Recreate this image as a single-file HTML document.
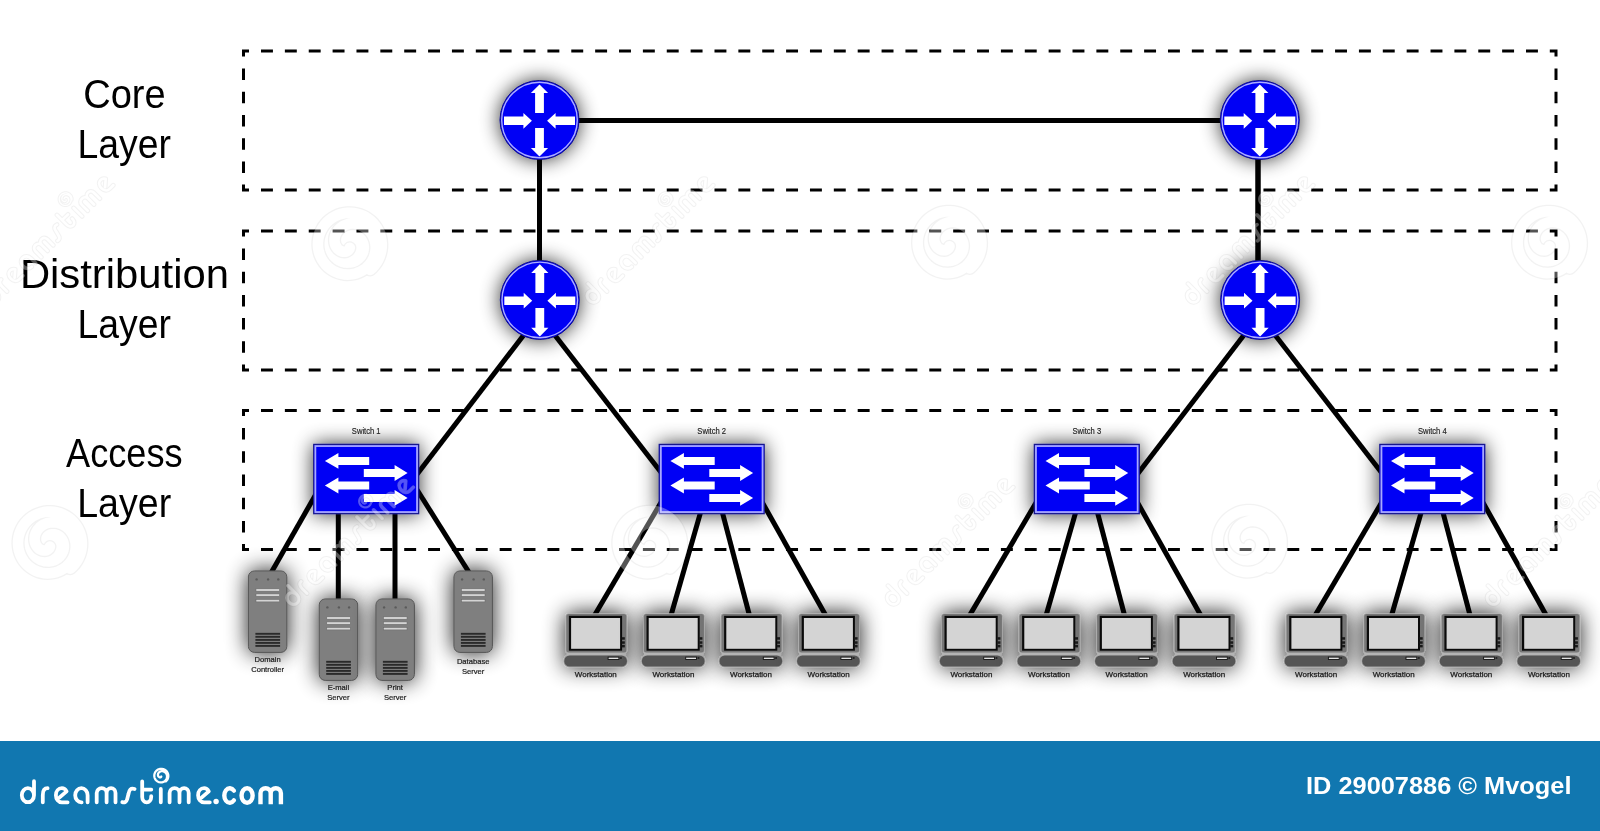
<!DOCTYPE html><html><head><meta charset="utf-8"><title>Hierarchical network design</title>
<style>html,body{margin:0;padding:0;background:#fff;overflow:hidden}svg{display:block;will-change:transform}text{font-family:"Liberation Sans",sans-serif}</style></head><body>
<svg width="1600" height="831" viewBox="0 0 1600 831">
<defs><filter id="sh" x="-80%" y="-80%" width="260%" height="260%"><feGaussianBlur in="SourceAlpha" stdDeviation="11"/><feComponentTransfer><feFuncA type="linear" slope="0.9"/></feComponentTransfer><feMerge><feMergeNode/><feMergeNode in="SourceGraphic"/></feMerge></filter><filter id="sh2" x="-80%" y="-80%" width="260%" height="260%"><feGaussianBlur in="SourceAlpha" stdDeviation="10"/><feComponentTransfer><feFuncA type="linear" slope="0.8"/></feComponentTransfer><feMerge><feMergeNode/><feMergeNode in="SourceGraphic"/></feMerge></filter></defs>
<rect width="1600" height="831" fill="#fff"/>
<path d="M242 49.5h7v3h-7zM242 188.5h7v3h-7zM261 49.5h11.93v3h-11.93zM261 188.5h11.93v3h-11.93zM284.87 49.5h11.93v3h-11.93zM284.87 188.5h11.93v3h-11.93zM308.74 49.5h11.93v3h-11.93zM308.74 188.5h11.93v3h-11.93zM332.6 49.5h11.93v3h-11.93zM332.6 188.5h11.93v3h-11.93zM356.47 49.5h11.93v3h-11.93zM356.47 188.5h11.93v3h-11.93zM380.34 49.5h11.93v3h-11.93zM380.34 188.5h11.93v3h-11.93zM404.21 49.5h11.93v3h-11.93zM404.21 188.5h11.93v3h-11.93zM428.08 49.5h11.93v3h-11.93zM428.08 188.5h11.93v3h-11.93zM451.94 49.5h11.93v3h-11.93zM451.94 188.5h11.93v3h-11.93zM475.81 49.5h11.93v3h-11.93zM475.81 188.5h11.93v3h-11.93zM499.68 49.5h11.93v3h-11.93zM499.68 188.5h11.93v3h-11.93zM523.55 49.5h11.93v3h-11.93zM523.55 188.5h11.93v3h-11.93zM547.42 49.5h11.93v3h-11.93zM547.42 188.5h11.93v3h-11.93zM571.28 49.5h11.93v3h-11.93zM571.28 188.5h11.93v3h-11.93zM595.15 49.5h11.93v3h-11.93zM595.15 188.5h11.93v3h-11.93zM619.02 49.5h11.93v3h-11.93zM619.02 188.5h11.93v3h-11.93zM642.89 49.5h11.93v3h-11.93zM642.89 188.5h11.93v3h-11.93zM666.76 49.5h11.93v3h-11.93zM666.76 188.5h11.93v3h-11.93zM690.62 49.5h11.93v3h-11.93zM690.62 188.5h11.93v3h-11.93zM714.49 49.5h11.93v3h-11.93zM714.49 188.5h11.93v3h-11.93zM738.36 49.5h11.93v3h-11.93zM738.36 188.5h11.93v3h-11.93zM762.23 49.5h11.93v3h-11.93zM762.23 188.5h11.93v3h-11.93zM786.1 49.5h11.93v3h-11.93zM786.1 188.5h11.93v3h-11.93zM809.96 49.5h11.93v3h-11.93zM809.96 188.5h11.93v3h-11.93zM833.83 49.5h11.93v3h-11.93zM833.83 188.5h11.93v3h-11.93zM857.7 49.5h11.93v3h-11.93zM857.7 188.5h11.93v3h-11.93zM881.57 49.5h11.93v3h-11.93zM881.57 188.5h11.93v3h-11.93zM905.44 49.5h11.93v3h-11.93zM905.44 188.5h11.93v3h-11.93zM929.3 49.5h11.93v3h-11.93zM929.3 188.5h11.93v3h-11.93zM953.17 49.5h11.93v3h-11.93zM953.17 188.5h11.93v3h-11.93zM977.04 49.5h11.93v3h-11.93zM977.04 188.5h11.93v3h-11.93zM1000.91 49.5h11.93v3h-11.93zM1000.91 188.5h11.93v3h-11.93zM1024.78 49.5h11.93v3h-11.93zM1024.78 188.5h11.93v3h-11.93zM1048.64 49.5h11.93v3h-11.93zM1048.64 188.5h11.93v3h-11.93zM1072.51 49.5h11.93v3h-11.93zM1072.51 188.5h11.93v3h-11.93zM1096.38 49.5h11.93v3h-11.93zM1096.38 188.5h11.93v3h-11.93zM1120.25 49.5h11.93v3h-11.93zM1120.25 188.5h11.93v3h-11.93zM1144.12 49.5h11.93v3h-11.93zM1144.12 188.5h11.93v3h-11.93zM1167.98 49.5h11.93v3h-11.93zM1167.98 188.5h11.93v3h-11.93zM1191.85 49.5h11.93v3h-11.93zM1191.85 188.5h11.93v3h-11.93zM1215.72 49.5h11.93v3h-11.93zM1215.72 188.5h11.93v3h-11.93zM1239.59 49.5h11.93v3h-11.93zM1239.59 188.5h11.93v3h-11.93zM1263.46 49.5h11.93v3h-11.93zM1263.46 188.5h11.93v3h-11.93zM1287.32 49.5h11.93v3h-11.93zM1287.32 188.5h11.93v3h-11.93zM1311.19 49.5h11.93v3h-11.93zM1311.19 188.5h11.93v3h-11.93zM1335.06 49.5h11.93v3h-11.93zM1335.06 188.5h11.93v3h-11.93zM1358.93 49.5h11.93v3h-11.93zM1358.93 188.5h11.93v3h-11.93zM1382.8 49.5h11.93v3h-11.93zM1382.8 188.5h11.93v3h-11.93zM1406.66 49.5h11.93v3h-11.93zM1406.66 188.5h11.93v3h-11.93zM1430.53 49.5h11.93v3h-11.93zM1430.53 188.5h11.93v3h-11.93zM1454.4 49.5h11.93v3h-11.93zM1454.4 188.5h11.93v3h-11.93zM1478.27 49.5h11.93v3h-11.93zM1478.27 188.5h11.93v3h-11.93zM1502.14 49.5h11.93v3h-11.93zM1502.14 188.5h11.93v3h-11.93zM1526 49.5h11.93v3h-11.93zM1526 188.5h11.93v3h-11.93zM1549.8 49.5h7.7v3h-7.7zM1549.8 188.5h7.7v3h-7.7zM242 49.5h3v7h-3zM1554.5 49.5h3v7h-3zM242 68.6h3v11.5h-3zM1554.5 68.6h3v11.5h-3zM242 91.8h3v11.5h-3zM1554.5 91.8h3v11.5h-3zM242 115h3v11.5h-3zM1554.5 115h3v11.5h-3zM242 138.2h3v11.5h-3zM1554.5 138.2h3v11.5h-3zM242 161.4h3v11.5h-3zM1554.5 161.4h3v11.5h-3zM242 184.5h3v7h-3zM1554.5 184.5h3v7h-3z" fill="#000"/>
<path d="M242 229.4h7v3h-7zM242 368.4h7v3h-7zM261 229.4h11.93v3h-11.93zM261 368.4h11.93v3h-11.93zM284.87 229.4h11.93v3h-11.93zM284.87 368.4h11.93v3h-11.93zM308.74 229.4h11.93v3h-11.93zM308.74 368.4h11.93v3h-11.93zM332.6 229.4h11.93v3h-11.93zM332.6 368.4h11.93v3h-11.93zM356.47 229.4h11.93v3h-11.93zM356.47 368.4h11.93v3h-11.93zM380.34 229.4h11.93v3h-11.93zM380.34 368.4h11.93v3h-11.93zM404.21 229.4h11.93v3h-11.93zM404.21 368.4h11.93v3h-11.93zM428.08 229.4h11.93v3h-11.93zM428.08 368.4h11.93v3h-11.93zM451.94 229.4h11.93v3h-11.93zM451.94 368.4h11.93v3h-11.93zM475.81 229.4h11.93v3h-11.93zM475.81 368.4h11.93v3h-11.93zM499.68 229.4h11.93v3h-11.93zM499.68 368.4h11.93v3h-11.93zM523.55 229.4h11.93v3h-11.93zM523.55 368.4h11.93v3h-11.93zM547.42 229.4h11.93v3h-11.93zM547.42 368.4h11.93v3h-11.93zM571.28 229.4h11.93v3h-11.93zM571.28 368.4h11.93v3h-11.93zM595.15 229.4h11.93v3h-11.93zM595.15 368.4h11.93v3h-11.93zM619.02 229.4h11.93v3h-11.93zM619.02 368.4h11.93v3h-11.93zM642.89 229.4h11.93v3h-11.93zM642.89 368.4h11.93v3h-11.93zM666.76 229.4h11.93v3h-11.93zM666.76 368.4h11.93v3h-11.93zM690.62 229.4h11.93v3h-11.93zM690.62 368.4h11.93v3h-11.93zM714.49 229.4h11.93v3h-11.93zM714.49 368.4h11.93v3h-11.93zM738.36 229.4h11.93v3h-11.93zM738.36 368.4h11.93v3h-11.93zM762.23 229.4h11.93v3h-11.93zM762.23 368.4h11.93v3h-11.93zM786.1 229.4h11.93v3h-11.93zM786.1 368.4h11.93v3h-11.93zM809.96 229.4h11.93v3h-11.93zM809.96 368.4h11.93v3h-11.93zM833.83 229.4h11.93v3h-11.93zM833.83 368.4h11.93v3h-11.93zM857.7 229.4h11.93v3h-11.93zM857.7 368.4h11.93v3h-11.93zM881.57 229.4h11.93v3h-11.93zM881.57 368.4h11.93v3h-11.93zM905.44 229.4h11.93v3h-11.93zM905.44 368.4h11.93v3h-11.93zM929.3 229.4h11.93v3h-11.93zM929.3 368.4h11.93v3h-11.93zM953.17 229.4h11.93v3h-11.93zM953.17 368.4h11.93v3h-11.93zM977.04 229.4h11.93v3h-11.93zM977.04 368.4h11.93v3h-11.93zM1000.91 229.4h11.93v3h-11.93zM1000.91 368.4h11.93v3h-11.93zM1024.78 229.4h11.93v3h-11.93zM1024.78 368.4h11.93v3h-11.93zM1048.64 229.4h11.93v3h-11.93zM1048.64 368.4h11.93v3h-11.93zM1072.51 229.4h11.93v3h-11.93zM1072.51 368.4h11.93v3h-11.93zM1096.38 229.4h11.93v3h-11.93zM1096.38 368.4h11.93v3h-11.93zM1120.25 229.4h11.93v3h-11.93zM1120.25 368.4h11.93v3h-11.93zM1144.12 229.4h11.93v3h-11.93zM1144.12 368.4h11.93v3h-11.93zM1167.98 229.4h11.93v3h-11.93zM1167.98 368.4h11.93v3h-11.93zM1191.85 229.4h11.93v3h-11.93zM1191.85 368.4h11.93v3h-11.93zM1215.72 229.4h11.93v3h-11.93zM1215.72 368.4h11.93v3h-11.93zM1239.59 229.4h11.93v3h-11.93zM1239.59 368.4h11.93v3h-11.93zM1263.46 229.4h11.93v3h-11.93zM1263.46 368.4h11.93v3h-11.93zM1287.32 229.4h11.93v3h-11.93zM1287.32 368.4h11.93v3h-11.93zM1311.19 229.4h11.93v3h-11.93zM1311.19 368.4h11.93v3h-11.93zM1335.06 229.4h11.93v3h-11.93zM1335.06 368.4h11.93v3h-11.93zM1358.93 229.4h11.93v3h-11.93zM1358.93 368.4h11.93v3h-11.93zM1382.8 229.4h11.93v3h-11.93zM1382.8 368.4h11.93v3h-11.93zM1406.66 229.4h11.93v3h-11.93zM1406.66 368.4h11.93v3h-11.93zM1430.53 229.4h11.93v3h-11.93zM1430.53 368.4h11.93v3h-11.93zM1454.4 229.4h11.93v3h-11.93zM1454.4 368.4h11.93v3h-11.93zM1478.27 229.4h11.93v3h-11.93zM1478.27 368.4h11.93v3h-11.93zM1502.14 229.4h11.93v3h-11.93zM1502.14 368.4h11.93v3h-11.93zM1526 229.4h11.93v3h-11.93zM1526 368.4h11.93v3h-11.93zM1549.8 229.4h7.7v3h-7.7zM1549.8 368.4h7.7v3h-7.7zM242 229.4h3v7h-3zM1554.5 229.4h3v7h-3zM242 248.5h3v11.5h-3zM1554.5 248.5h3v11.5h-3zM242 271.7h3v11.5h-3zM1554.5 271.7h3v11.5h-3zM242 294.9h3v11.5h-3zM1554.5 294.9h3v11.5h-3zM242 318.1h3v11.5h-3zM1554.5 318.1h3v11.5h-3zM242 341.3h3v11.5h-3zM1554.5 341.3h3v11.5h-3zM242 364.4h3v7h-3zM1554.5 364.4h3v7h-3z" fill="#000"/>
<path d="M242 409h7v3h-7zM242 548h7v3h-7zM261 409h11.93v3h-11.93zM261 548h11.93v3h-11.93zM284.87 409h11.93v3h-11.93zM284.87 548h11.93v3h-11.93zM308.74 409h11.93v3h-11.93zM308.74 548h11.93v3h-11.93zM332.6 409h11.93v3h-11.93zM332.6 548h11.93v3h-11.93zM356.47 409h11.93v3h-11.93zM356.47 548h11.93v3h-11.93zM380.34 409h11.93v3h-11.93zM380.34 548h11.93v3h-11.93zM404.21 409h11.93v3h-11.93zM404.21 548h11.93v3h-11.93zM428.08 409h11.93v3h-11.93zM428.08 548h11.93v3h-11.93zM451.94 409h11.93v3h-11.93zM451.94 548h11.93v3h-11.93zM475.81 409h11.93v3h-11.93zM475.81 548h11.93v3h-11.93zM499.68 409h11.93v3h-11.93zM499.68 548h11.93v3h-11.93zM523.55 409h11.93v3h-11.93zM523.55 548h11.93v3h-11.93zM547.42 409h11.93v3h-11.93zM547.42 548h11.93v3h-11.93zM571.28 409h11.93v3h-11.93zM571.28 548h11.93v3h-11.93zM595.15 409h11.93v3h-11.93zM595.15 548h11.93v3h-11.93zM619.02 409h11.93v3h-11.93zM619.02 548h11.93v3h-11.93zM642.89 409h11.93v3h-11.93zM642.89 548h11.93v3h-11.93zM666.76 409h11.93v3h-11.93zM666.76 548h11.93v3h-11.93zM690.62 409h11.93v3h-11.93zM690.62 548h11.93v3h-11.93zM714.49 409h11.93v3h-11.93zM714.49 548h11.93v3h-11.93zM738.36 409h11.93v3h-11.93zM738.36 548h11.93v3h-11.93zM762.23 409h11.93v3h-11.93zM762.23 548h11.93v3h-11.93zM786.1 409h11.93v3h-11.93zM786.1 548h11.93v3h-11.93zM809.96 409h11.93v3h-11.93zM809.96 548h11.93v3h-11.93zM833.83 409h11.93v3h-11.93zM833.83 548h11.93v3h-11.93zM857.7 409h11.93v3h-11.93zM857.7 548h11.93v3h-11.93zM881.57 409h11.93v3h-11.93zM881.57 548h11.93v3h-11.93zM905.44 409h11.93v3h-11.93zM905.44 548h11.93v3h-11.93zM929.3 409h11.93v3h-11.93zM929.3 548h11.93v3h-11.93zM953.17 409h11.93v3h-11.93zM953.17 548h11.93v3h-11.93zM977.04 409h11.93v3h-11.93zM977.04 548h11.93v3h-11.93zM1000.91 409h11.93v3h-11.93zM1000.91 548h11.93v3h-11.93zM1024.78 409h11.93v3h-11.93zM1024.78 548h11.93v3h-11.93zM1048.64 409h11.93v3h-11.93zM1048.64 548h11.93v3h-11.93zM1072.51 409h11.93v3h-11.93zM1072.51 548h11.93v3h-11.93zM1096.38 409h11.93v3h-11.93zM1096.38 548h11.93v3h-11.93zM1120.25 409h11.93v3h-11.93zM1120.25 548h11.93v3h-11.93zM1144.12 409h11.93v3h-11.93zM1144.12 548h11.93v3h-11.93zM1167.98 409h11.93v3h-11.93zM1167.98 548h11.93v3h-11.93zM1191.85 409h11.93v3h-11.93zM1191.85 548h11.93v3h-11.93zM1215.72 409h11.93v3h-11.93zM1215.72 548h11.93v3h-11.93zM1239.59 409h11.93v3h-11.93zM1239.59 548h11.93v3h-11.93zM1263.46 409h11.93v3h-11.93zM1263.46 548h11.93v3h-11.93zM1287.32 409h11.93v3h-11.93zM1287.32 548h11.93v3h-11.93zM1311.19 409h11.93v3h-11.93zM1311.19 548h11.93v3h-11.93zM1335.06 409h11.93v3h-11.93zM1335.06 548h11.93v3h-11.93zM1358.93 409h11.93v3h-11.93zM1358.93 548h11.93v3h-11.93zM1382.8 409h11.93v3h-11.93zM1382.8 548h11.93v3h-11.93zM1406.66 409h11.93v3h-11.93zM1406.66 548h11.93v3h-11.93zM1430.53 409h11.93v3h-11.93zM1430.53 548h11.93v3h-11.93zM1454.4 409h11.93v3h-11.93zM1454.4 548h11.93v3h-11.93zM1478.27 409h11.93v3h-11.93zM1478.27 548h11.93v3h-11.93zM1502.14 409h11.93v3h-11.93zM1502.14 548h11.93v3h-11.93zM1526 409h11.93v3h-11.93zM1526 548h11.93v3h-11.93zM1549.8 409h7.7v3h-7.7zM1549.8 548h7.7v3h-7.7zM242 409h3v7h-3zM1554.5 409h3v7h-3zM242 428.1h3v11.5h-3zM1554.5 428.1h3v11.5h-3zM242 451.3h3v11.5h-3zM1554.5 451.3h3v11.5h-3zM242 474.5h3v11.5h-3zM1554.5 474.5h3v11.5h-3zM242 497.7h3v11.5h-3zM1554.5 497.7h3v11.5h-3zM242 520.9h3v11.5h-3zM1554.5 520.9h3v11.5h-3zM242 544h3v7h-3zM1554.5 544h3v7h-3z" fill="#000"/>
<line x1="539.5" y1="120.4" x2="1260" y2="120.4" stroke="#000" stroke-width="5"/><line x1="539.5" y1="120" x2="539.5" y2="300" stroke="#000" stroke-width="5"/><line x1="1258" y1="120" x2="1258" y2="300" stroke="#000" stroke-width="5.5"/><line x1="550.54" y1="300" x2="412.66" y2="480" stroke="#000" stroke-width="5"/><line x1="527.64" y1="300" x2="666.96" y2="480" stroke="#000" stroke-width="5"/><line x1="1270.84" y1="300" x2="1132.96" y2="480" stroke="#000" stroke-width="5"/><line x1="1247.94" y1="300" x2="1387.26" y2="480" stroke="#000" stroke-width="5"/><line x1="324" y1="480" x2="267" y2="580" stroke="#000" stroke-width="5"/><line x1="338.3" y1="480" x2="338.3" y2="605" stroke="#000" stroke-width="5"/><line x1="395" y1="480" x2="395" y2="605" stroke="#000" stroke-width="5"/><line x1="410.91" y1="480" x2="473.81" y2="580" stroke="#000" stroke-width="5"/><line x1="674.25" y1="480" x2="592.97" y2="618" stroke="#000" stroke-width="5"/><line x1="709.85" y1="480" x2="670.24" y2="618" stroke="#000" stroke-width="5"/><line x1="713.85" y1="480" x2="750.14" y2="618" stroke="#000" stroke-width="5"/><line x1="749.75" y1="480" x2="827.17" y2="618" stroke="#000" stroke-width="5"/><line x1="1049.35" y1="480" x2="968.07" y2="618" stroke="#000" stroke-width="5"/><line x1="1084.95" y1="480" x2="1045.34" y2="618" stroke="#000" stroke-width="5"/><line x1="1088.95" y1="480" x2="1125.24" y2="618" stroke="#000" stroke-width="5"/><line x1="1124.85" y1="480" x2="1202.27" y2="618" stroke="#000" stroke-width="5"/><line x1="1394.85" y1="480" x2="1313.57" y2="618" stroke="#000" stroke-width="5"/><line x1="1430.45" y1="480" x2="1390.84" y2="618" stroke="#000" stroke-width="5"/><line x1="1434.45" y1="480" x2="1470.74" y2="618" stroke="#000" stroke-width="5"/><line x1="1470.35" y1="480" x2="1547.77" y2="618" stroke="#000" stroke-width="5"/>
<g transform="translate(539.5 120)"><circle r="39.5" fill="#0000f5" stroke="#0c0c80" stroke-width="1" filter="url(#sh2)"/><circle r="37.8" fill="none" stroke="#aeaeff" stroke-width="1.4"/><path fill="#fff" d="M-4.4 -7V-26.9H-8.6L0 -35.6L8.6 -26.9H4.4V-7ZM-4.4 8V27.9H-8.6L0 36.5L8.6 27.9H4.4V8ZM-35.5 -3.4H-16.1V-7.1L-7.6 0.8L-16.1 8.7V5H-35.5ZM35.5 -3.4H16.1V-7.1L7.6 0.8L16.1 8.7V5H35.5Z"/></g>
<g transform="translate(1259.8 120)"><circle r="39.5" fill="#0000f5" stroke="#0c0c80" stroke-width="1" filter="url(#sh2)"/><circle r="37.8" fill="none" stroke="#aeaeff" stroke-width="1.4"/><path fill="#fff" d="M-4.4 -7V-26.9H-8.6L0 -35.6L8.6 -26.9H4.4V-7ZM-4.4 8V27.9H-8.6L0 36.5L8.6 27.9H4.4V8ZM-35.5 -3.4H-16.1V-7.1L-7.6 0.8L-16.1 8.7V5H-35.5ZM35.5 -3.4H16.1V-7.1L7.6 0.8L16.1 8.7V5H35.5Z"/></g>
<g transform="translate(539.8 299.9)"><circle r="39.5" fill="#0000f5" stroke="#0c0c80" stroke-width="1" filter="url(#sh2)"/><circle r="37.8" fill="none" stroke="#aeaeff" stroke-width="1.4"/><path fill="#fff" d="M-4.4 -7V-26.9H-8.6L0 -35.6L8.6 -26.9H4.4V-7ZM-4.4 8V27.9H-8.6L0 36.5L8.6 27.9H4.4V8ZM-35.5 -3.4H-16.1V-7.1L-7.6 0.8L-16.1 8.7V5H-35.5ZM35.5 -3.4H16.1V-7.1L7.6 0.8L16.1 8.7V5H35.5Z"/></g>
<g transform="translate(1260.1 299.9)"><circle r="39.5" fill="#0000f5" stroke="#0c0c80" stroke-width="1" filter="url(#sh2)"/><circle r="37.8" fill="none" stroke="#aeaeff" stroke-width="1.4"/><path fill="#fff" d="M-4.4 -7V-26.9H-8.6L0 -35.6L8.6 -26.9H4.4V-7ZM-4.4 8V27.9H-8.6L0 36.5L8.6 27.9H4.4V8ZM-35.5 -3.4H-16.1V-7.1L-7.6 0.8L-16.1 8.7V5H-35.5ZM35.5 -3.4H16.1V-7.1L7.6 0.8L16.1 8.7V5H35.5Z"/></g>
<g transform="translate(313.2 443.9)"><rect x="0.5" y="0.5" width="105" height="69.3" fill="#0000f5" stroke="#16168c" stroke-width="1.2" filter="url(#sh2)"/><rect x="2.15" y="2.15" width="101.7" height="66" fill="none" stroke="#a8a8ff" stroke-width="1.8"/><path fill="#fff" d="M56 13H25.2V9.1L11.7 17L25.2 24.9V21H56ZM56 37.6H25.2V33.7L11.7 41.6L25.2 49.5V45.6H56ZM50.6 25.1H81.4V21.2L94.4 29.1L81.4 37V33.1H50.6ZM50.6 50H81.4V46.1L94.4 54L81.4 61.9V58H50.6Z"/></g><text x="366.2" y="434" font-size="8.8" fill="#222" stroke="#222" stroke-width="0.15" text-anchor="middle" textLength="28.8" lengthAdjust="spacingAndGlyphs">Switch 1</text>
<g transform="translate(658.7 443.9)"><rect x="0.5" y="0.5" width="105" height="69.3" fill="#0000f5" stroke="#16168c" stroke-width="1.2" filter="url(#sh2)"/><rect x="2.15" y="2.15" width="101.7" height="66" fill="none" stroke="#a8a8ff" stroke-width="1.8"/><path fill="#fff" d="M56 13H25.2V9.1L11.7 17L25.2 24.9V21H56ZM56 37.6H25.2V33.7L11.7 41.6L25.2 49.5V45.6H56ZM50.6 25.1H81.4V21.2L94.4 29.1L81.4 37V33.1H50.6ZM50.6 50H81.4V46.1L94.4 54L81.4 61.9V58H50.6Z"/></g><text x="711.7" y="434" font-size="8.8" fill="#222" stroke="#222" stroke-width="0.15" text-anchor="middle" textLength="28.8" lengthAdjust="spacingAndGlyphs">Switch 2</text>
<g transform="translate(1033.8 443.9)"><rect x="0.5" y="0.5" width="105" height="69.3" fill="#0000f5" stroke="#16168c" stroke-width="1.2" filter="url(#sh2)"/><rect x="2.15" y="2.15" width="101.7" height="66" fill="none" stroke="#a8a8ff" stroke-width="1.8"/><path fill="#fff" d="M56 13H25.2V9.1L11.7 17L25.2 24.9V21H56ZM56 37.6H25.2V33.7L11.7 41.6L25.2 49.5V45.6H56ZM50.6 25.1H81.4V21.2L94.4 29.1L81.4 37V33.1H50.6ZM50.6 50H81.4V46.1L94.4 54L81.4 61.9V58H50.6Z"/></g><text x="1086.8" y="434" font-size="8.8" fill="#222" stroke="#222" stroke-width="0.15" text-anchor="middle" textLength="28.8" lengthAdjust="spacingAndGlyphs">Switch 3</text>
<g transform="translate(1379.3 443.9)"><rect x="0.5" y="0.5" width="105" height="69.3" fill="#0000f5" stroke="#16168c" stroke-width="1.2" filter="url(#sh2)"/><rect x="2.15" y="2.15" width="101.7" height="66" fill="none" stroke="#a8a8ff" stroke-width="1.8"/><path fill="#fff" d="M56 13H25.2V9.1L11.7 17L25.2 24.9V21H56ZM56 37.6H25.2V33.7L11.7 41.6L25.2 49.5V45.6H56ZM50.6 25.1H81.4V21.2L94.4 29.1L81.4 37V33.1H50.6ZM50.6 50H81.4V46.1L94.4 54L81.4 61.9V58H50.6Z"/></g><text x="1432.3" y="434" font-size="8.8" fill="#222" stroke="#222" stroke-width="0.15" text-anchor="middle" textLength="28.8" lengthAdjust="spacingAndGlyphs">Switch 4</text>
<g transform="translate(247.9 570.4)"><rect x="0.5" y="0.5" width="38.5" height="81.5" rx="6" fill="#7f7f7f" stroke="#555" stroke-width="1" filter="url(#sh)"/><circle cx="8.7" cy="9" r="1.2" fill="#5a5a5a"/><circle cx="20.2" cy="9" r="1.2" fill="#5a5a5a"/><circle cx="30.4" cy="9" r="1.2" fill="#5a5a5a"/><rect x="8.1" y="18.4" width="23.5" height="2.4" fill="#d4d4d4" stroke="#666" stroke-width="0.5"/><rect x="8.1" y="23.5" width="23.5" height="2.4" fill="#d4d4d4" stroke="#666" stroke-width="0.5"/><rect x="8.1" y="29.1" width="23.5" height="2.4" fill="#d4d4d4" stroke="#666" stroke-width="0.5"/><rect x="7.5" y="62.45" width="24.7" height="1.9" fill="#2a2a2a"/><rect x="7.5" y="65.45" width="24.7" height="1.9" fill="#2a2a2a"/><rect x="7.5" y="68.55" width="24.7" height="1.9" fill="#2a2a2a"/><rect x="7.5" y="71.55" width="24.7" height="1.9" fill="#2a2a2a"/><rect x="7.5" y="74.55" width="24.7" height="1.9" fill="#2a2a2a"/></g><text x="267.65" y="661.8" font-size="7.6" fill="#1a1a1a" stroke="#1a1a1a" stroke-width="0.2" text-anchor="middle">Domain</text><text x="267.65" y="671.9" font-size="7.6" fill="#1a1a1a" stroke="#1a1a1a" stroke-width="0.2" text-anchor="middle">Controller</text>
<g transform="translate(318.7 598.4)"><rect x="0.5" y="0.5" width="38.5" height="81.5" rx="6" fill="#7f7f7f" stroke="#555" stroke-width="1" filter="url(#sh)"/><circle cx="8.7" cy="9" r="1.2" fill="#5a5a5a"/><circle cx="20.2" cy="9" r="1.2" fill="#5a5a5a"/><circle cx="30.4" cy="9" r="1.2" fill="#5a5a5a"/><rect x="8.1" y="18.4" width="23.5" height="2.4" fill="#d4d4d4" stroke="#666" stroke-width="0.5"/><rect x="8.1" y="23.5" width="23.5" height="2.4" fill="#d4d4d4" stroke="#666" stroke-width="0.5"/><rect x="8.1" y="29.1" width="23.5" height="2.4" fill="#d4d4d4" stroke="#666" stroke-width="0.5"/><rect x="7.5" y="62.45" width="24.7" height="1.9" fill="#2a2a2a"/><rect x="7.5" y="65.45" width="24.7" height="1.9" fill="#2a2a2a"/><rect x="7.5" y="68.55" width="24.7" height="1.9" fill="#2a2a2a"/><rect x="7.5" y="71.55" width="24.7" height="1.9" fill="#2a2a2a"/><rect x="7.5" y="74.55" width="24.7" height="1.9" fill="#2a2a2a"/></g><text x="338.45" y="689.8" font-size="7.6" fill="#1a1a1a" stroke="#1a1a1a" stroke-width="0.2" text-anchor="middle">E-mail</text><text x="338.45" y="699.9" font-size="7.6" fill="#1a1a1a" stroke="#1a1a1a" stroke-width="0.2" text-anchor="middle">Server</text>
<g transform="translate(375.4 598.4)"><rect x="0.5" y="0.5" width="38.5" height="81.5" rx="6" fill="#7f7f7f" stroke="#555" stroke-width="1" filter="url(#sh)"/><circle cx="8.7" cy="9" r="1.2" fill="#5a5a5a"/><circle cx="20.2" cy="9" r="1.2" fill="#5a5a5a"/><circle cx="30.4" cy="9" r="1.2" fill="#5a5a5a"/><rect x="8.1" y="18.4" width="23.5" height="2.4" fill="#d4d4d4" stroke="#666" stroke-width="0.5"/><rect x="8.1" y="23.5" width="23.5" height="2.4" fill="#d4d4d4" stroke="#666" stroke-width="0.5"/><rect x="8.1" y="29.1" width="23.5" height="2.4" fill="#d4d4d4" stroke="#666" stroke-width="0.5"/><rect x="7.5" y="62.45" width="24.7" height="1.9" fill="#2a2a2a"/><rect x="7.5" y="65.45" width="24.7" height="1.9" fill="#2a2a2a"/><rect x="7.5" y="68.55" width="24.7" height="1.9" fill="#2a2a2a"/><rect x="7.5" y="71.55" width="24.7" height="1.9" fill="#2a2a2a"/><rect x="7.5" y="74.55" width="24.7" height="1.9" fill="#2a2a2a"/></g><text x="395.15" y="689.8" font-size="7.6" fill="#1a1a1a" stroke="#1a1a1a" stroke-width="0.2" text-anchor="middle">Print</text><text x="395.15" y="699.9" font-size="7.6" fill="#1a1a1a" stroke="#1a1a1a" stroke-width="0.2" text-anchor="middle">Server</text>
<g transform="translate(453.4 570.4)"><rect x="0.5" y="0.5" width="38.5" height="81.5" rx="6" fill="#7f7f7f" stroke="#555" stroke-width="1" filter="url(#sh)"/><circle cx="8.7" cy="9" r="1.2" fill="#5a5a5a"/><circle cx="20.2" cy="9" r="1.2" fill="#5a5a5a"/><circle cx="30.4" cy="9" r="1.2" fill="#5a5a5a"/><rect x="8.1" y="18.4" width="23.5" height="2.4" fill="#d4d4d4" stroke="#666" stroke-width="0.5"/><rect x="8.1" y="23.5" width="23.5" height="2.4" fill="#d4d4d4" stroke="#666" stroke-width="0.5"/><rect x="8.1" y="29.1" width="23.5" height="2.4" fill="#d4d4d4" stroke="#666" stroke-width="0.5"/><rect x="7.5" y="62.45" width="24.7" height="1.9" fill="#2a2a2a"/><rect x="7.5" y="65.45" width="24.7" height="1.9" fill="#2a2a2a"/><rect x="7.5" y="68.55" width="24.7" height="1.9" fill="#2a2a2a"/><rect x="7.5" y="71.55" width="24.7" height="1.9" fill="#2a2a2a"/><rect x="7.5" y="74.55" width="24.7" height="1.9" fill="#2a2a2a"/></g><text x="473.15" y="663.8" font-size="7.6" fill="#1a1a1a" stroke="#1a1a1a" stroke-width="0.2" text-anchor="middle">Database</text><text x="473.15" y="673.9" font-size="7.6" fill="#1a1a1a" stroke="#1a1a1a" stroke-width="0.2" text-anchor="middle">Server</text>
<g transform="translate(566.3 614.1)"><g filter="url(#sh)"><rect x="-0.9" y="-0.9" width="61.8" height="40.3" rx="3.2" fill="#acacac"/><rect x="-2.9" y="40.5" width="64.4" height="12.9" rx="6" fill="#a6a6a6"/></g><rect x="0" y="38.4" width="60" height="3" fill="#b4b4b4"/><rect x="0" y="0" width="60" height="38.5" rx="2.5" fill="#777"/><rect x="-2" y="41.4" width="62.6" height="11.1" rx="5.2" fill="#555"/><rect x="2.6" y="1.7" width="53.2" height="34.9" fill="#0a0a0a"/><rect x="4.8" y="3.9" width="49" height="30.8" fill="#d4d4d4"/><rect x="55.4" y="23.1" width="3.1" height="2.5" fill="#1a1a1a"/><rect x="55.4" y="27.2" width="3.1" height="2.5" fill="#1a1a1a"/><rect x="55.4" y="30.8" width="3.1" height="2.5" fill="#1a1a1a"/><rect x="41.8" y="43.0" width="10.8" height="2.4" fill="#e0e0e0" stroke="#111" stroke-width="0.9"/><circle cx="54.6" cy="43.9" r="1.1" fill="#222"/></g><text x="595.8" y="677.2" font-size="8" fill="#1a1a1a" stroke="#1a1a1a" stroke-width="0.25" text-anchor="middle" textLength="42" lengthAdjust="spacingAndGlyphs">Workstation</text>
<g transform="translate(643.9 614.1)"><g filter="url(#sh)"><rect x="-0.9" y="-0.9" width="61.8" height="40.3" rx="3.2" fill="#acacac"/><rect x="-2.9" y="40.5" width="64.4" height="12.9" rx="6" fill="#a6a6a6"/></g><rect x="0" y="38.4" width="60" height="3" fill="#b4b4b4"/><rect x="0" y="0" width="60" height="38.5" rx="2.5" fill="#777"/><rect x="-2" y="41.4" width="62.6" height="11.1" rx="5.2" fill="#555"/><rect x="2.6" y="1.7" width="53.2" height="34.9" fill="#0a0a0a"/><rect x="4.8" y="3.9" width="49" height="30.8" fill="#d4d4d4"/><rect x="55.4" y="23.1" width="3.1" height="2.5" fill="#1a1a1a"/><rect x="55.4" y="27.2" width="3.1" height="2.5" fill="#1a1a1a"/><rect x="55.4" y="30.8" width="3.1" height="2.5" fill="#1a1a1a"/><rect x="41.8" y="43.0" width="10.8" height="2.4" fill="#e0e0e0" stroke="#111" stroke-width="0.9"/><circle cx="54.6" cy="43.9" r="1.1" fill="#222"/></g><text x="673.4" y="677.2" font-size="8" fill="#1a1a1a" stroke="#1a1a1a" stroke-width="0.25" text-anchor="middle" textLength="42" lengthAdjust="spacingAndGlyphs">Workstation</text>
<g transform="translate(721.5 614.1)"><g filter="url(#sh)"><rect x="-0.9" y="-0.9" width="61.8" height="40.3" rx="3.2" fill="#acacac"/><rect x="-2.9" y="40.5" width="64.4" height="12.9" rx="6" fill="#a6a6a6"/></g><rect x="0" y="38.4" width="60" height="3" fill="#b4b4b4"/><rect x="0" y="0" width="60" height="38.5" rx="2.5" fill="#777"/><rect x="-2" y="41.4" width="62.6" height="11.1" rx="5.2" fill="#555"/><rect x="2.6" y="1.7" width="53.2" height="34.9" fill="#0a0a0a"/><rect x="4.8" y="3.9" width="49" height="30.8" fill="#d4d4d4"/><rect x="55.4" y="23.1" width="3.1" height="2.5" fill="#1a1a1a"/><rect x="55.4" y="27.2" width="3.1" height="2.5" fill="#1a1a1a"/><rect x="55.4" y="30.8" width="3.1" height="2.5" fill="#1a1a1a"/><rect x="41.8" y="43.0" width="10.8" height="2.4" fill="#e0e0e0" stroke="#111" stroke-width="0.9"/><circle cx="54.6" cy="43.9" r="1.1" fill="#222"/></g><text x="751" y="677.2" font-size="8" fill="#1a1a1a" stroke="#1a1a1a" stroke-width="0.25" text-anchor="middle" textLength="42" lengthAdjust="spacingAndGlyphs">Workstation</text>
<g transform="translate(799.1 614.1)"><g filter="url(#sh)"><rect x="-0.9" y="-0.9" width="61.8" height="40.3" rx="3.2" fill="#acacac"/><rect x="-2.9" y="40.5" width="64.4" height="12.9" rx="6" fill="#a6a6a6"/></g><rect x="0" y="38.4" width="60" height="3" fill="#b4b4b4"/><rect x="0" y="0" width="60" height="38.5" rx="2.5" fill="#777"/><rect x="-2" y="41.4" width="62.6" height="11.1" rx="5.2" fill="#555"/><rect x="2.6" y="1.7" width="53.2" height="34.9" fill="#0a0a0a"/><rect x="4.8" y="3.9" width="49" height="30.8" fill="#d4d4d4"/><rect x="55.4" y="23.1" width="3.1" height="2.5" fill="#1a1a1a"/><rect x="55.4" y="27.2" width="3.1" height="2.5" fill="#1a1a1a"/><rect x="55.4" y="30.8" width="3.1" height="2.5" fill="#1a1a1a"/><rect x="41.8" y="43.0" width="10.8" height="2.4" fill="#e0e0e0" stroke="#111" stroke-width="0.9"/><circle cx="54.6" cy="43.9" r="1.1" fill="#222"/></g><text x="828.6" y="677.2" font-size="8" fill="#1a1a1a" stroke="#1a1a1a" stroke-width="0.25" text-anchor="middle" textLength="42" lengthAdjust="spacingAndGlyphs">Workstation</text>
<g transform="translate(941.9 614.1)"><g filter="url(#sh)"><rect x="-0.9" y="-0.9" width="61.8" height="40.3" rx="3.2" fill="#acacac"/><rect x="-2.9" y="40.5" width="64.4" height="12.9" rx="6" fill="#a6a6a6"/></g><rect x="0" y="38.4" width="60" height="3" fill="#b4b4b4"/><rect x="0" y="0" width="60" height="38.5" rx="2.5" fill="#777"/><rect x="-2" y="41.4" width="62.6" height="11.1" rx="5.2" fill="#555"/><rect x="2.6" y="1.7" width="53.2" height="34.9" fill="#0a0a0a"/><rect x="4.8" y="3.9" width="49" height="30.8" fill="#d4d4d4"/><rect x="55.4" y="23.1" width="3.1" height="2.5" fill="#1a1a1a"/><rect x="55.4" y="27.2" width="3.1" height="2.5" fill="#1a1a1a"/><rect x="55.4" y="30.8" width="3.1" height="2.5" fill="#1a1a1a"/><rect x="41.8" y="43.0" width="10.8" height="2.4" fill="#e0e0e0" stroke="#111" stroke-width="0.9"/><circle cx="54.6" cy="43.9" r="1.1" fill="#222"/></g><text x="971.4" y="677.2" font-size="8" fill="#1a1a1a" stroke="#1a1a1a" stroke-width="0.25" text-anchor="middle" textLength="42" lengthAdjust="spacingAndGlyphs">Workstation</text>
<g transform="translate(1019.5 614.1)"><g filter="url(#sh)"><rect x="-0.9" y="-0.9" width="61.8" height="40.3" rx="3.2" fill="#acacac"/><rect x="-2.9" y="40.5" width="64.4" height="12.9" rx="6" fill="#a6a6a6"/></g><rect x="0" y="38.4" width="60" height="3" fill="#b4b4b4"/><rect x="0" y="0" width="60" height="38.5" rx="2.5" fill="#777"/><rect x="-2" y="41.4" width="62.6" height="11.1" rx="5.2" fill="#555"/><rect x="2.6" y="1.7" width="53.2" height="34.9" fill="#0a0a0a"/><rect x="4.8" y="3.9" width="49" height="30.8" fill="#d4d4d4"/><rect x="55.4" y="23.1" width="3.1" height="2.5" fill="#1a1a1a"/><rect x="55.4" y="27.2" width="3.1" height="2.5" fill="#1a1a1a"/><rect x="55.4" y="30.8" width="3.1" height="2.5" fill="#1a1a1a"/><rect x="41.8" y="43.0" width="10.8" height="2.4" fill="#e0e0e0" stroke="#111" stroke-width="0.9"/><circle cx="54.6" cy="43.9" r="1.1" fill="#222"/></g><text x="1049" y="677.2" font-size="8" fill="#1a1a1a" stroke="#1a1a1a" stroke-width="0.25" text-anchor="middle" textLength="42" lengthAdjust="spacingAndGlyphs">Workstation</text>
<g transform="translate(1097.1 614.1)"><g filter="url(#sh)"><rect x="-0.9" y="-0.9" width="61.8" height="40.3" rx="3.2" fill="#acacac"/><rect x="-2.9" y="40.5" width="64.4" height="12.9" rx="6" fill="#a6a6a6"/></g><rect x="0" y="38.4" width="60" height="3" fill="#b4b4b4"/><rect x="0" y="0" width="60" height="38.5" rx="2.5" fill="#777"/><rect x="-2" y="41.4" width="62.6" height="11.1" rx="5.2" fill="#555"/><rect x="2.6" y="1.7" width="53.2" height="34.9" fill="#0a0a0a"/><rect x="4.8" y="3.9" width="49" height="30.8" fill="#d4d4d4"/><rect x="55.4" y="23.1" width="3.1" height="2.5" fill="#1a1a1a"/><rect x="55.4" y="27.2" width="3.1" height="2.5" fill="#1a1a1a"/><rect x="55.4" y="30.8" width="3.1" height="2.5" fill="#1a1a1a"/><rect x="41.8" y="43.0" width="10.8" height="2.4" fill="#e0e0e0" stroke="#111" stroke-width="0.9"/><circle cx="54.6" cy="43.9" r="1.1" fill="#222"/></g><text x="1126.6" y="677.2" font-size="8" fill="#1a1a1a" stroke="#1a1a1a" stroke-width="0.25" text-anchor="middle" textLength="42" lengthAdjust="spacingAndGlyphs">Workstation</text>
<g transform="translate(1174.7 614.1)"><g filter="url(#sh)"><rect x="-0.9" y="-0.9" width="61.8" height="40.3" rx="3.2" fill="#acacac"/><rect x="-2.9" y="40.5" width="64.4" height="12.9" rx="6" fill="#a6a6a6"/></g><rect x="0" y="38.4" width="60" height="3" fill="#b4b4b4"/><rect x="0" y="0" width="60" height="38.5" rx="2.5" fill="#777"/><rect x="-2" y="41.4" width="62.6" height="11.1" rx="5.2" fill="#555"/><rect x="2.6" y="1.7" width="53.2" height="34.9" fill="#0a0a0a"/><rect x="4.8" y="3.9" width="49" height="30.8" fill="#d4d4d4"/><rect x="55.4" y="23.1" width="3.1" height="2.5" fill="#1a1a1a"/><rect x="55.4" y="27.2" width="3.1" height="2.5" fill="#1a1a1a"/><rect x="55.4" y="30.8" width="3.1" height="2.5" fill="#1a1a1a"/><rect x="41.8" y="43.0" width="10.8" height="2.4" fill="#e0e0e0" stroke="#111" stroke-width="0.9"/><circle cx="54.6" cy="43.9" r="1.1" fill="#222"/></g><text x="1204.2" y="677.2" font-size="8" fill="#1a1a1a" stroke="#1a1a1a" stroke-width="0.25" text-anchor="middle" textLength="42" lengthAdjust="spacingAndGlyphs">Workstation</text>
<g transform="translate(1286.6 614.1)"><g filter="url(#sh)"><rect x="-0.9" y="-0.9" width="61.8" height="40.3" rx="3.2" fill="#acacac"/><rect x="-2.9" y="40.5" width="64.4" height="12.9" rx="6" fill="#a6a6a6"/></g><rect x="0" y="38.4" width="60" height="3" fill="#b4b4b4"/><rect x="0" y="0" width="60" height="38.5" rx="2.5" fill="#777"/><rect x="-2" y="41.4" width="62.6" height="11.1" rx="5.2" fill="#555"/><rect x="2.6" y="1.7" width="53.2" height="34.9" fill="#0a0a0a"/><rect x="4.8" y="3.9" width="49" height="30.8" fill="#d4d4d4"/><rect x="55.4" y="23.1" width="3.1" height="2.5" fill="#1a1a1a"/><rect x="55.4" y="27.2" width="3.1" height="2.5" fill="#1a1a1a"/><rect x="55.4" y="30.8" width="3.1" height="2.5" fill="#1a1a1a"/><rect x="41.8" y="43.0" width="10.8" height="2.4" fill="#e0e0e0" stroke="#111" stroke-width="0.9"/><circle cx="54.6" cy="43.9" r="1.1" fill="#222"/></g><text x="1316.1" y="677.2" font-size="8" fill="#1a1a1a" stroke="#1a1a1a" stroke-width="0.25" text-anchor="middle" textLength="42" lengthAdjust="spacingAndGlyphs">Workstation</text>
<g transform="translate(1364.2 614.1)"><g filter="url(#sh)"><rect x="-0.9" y="-0.9" width="61.8" height="40.3" rx="3.2" fill="#acacac"/><rect x="-2.9" y="40.5" width="64.4" height="12.9" rx="6" fill="#a6a6a6"/></g><rect x="0" y="38.4" width="60" height="3" fill="#b4b4b4"/><rect x="0" y="0" width="60" height="38.5" rx="2.5" fill="#777"/><rect x="-2" y="41.4" width="62.6" height="11.1" rx="5.2" fill="#555"/><rect x="2.6" y="1.7" width="53.2" height="34.9" fill="#0a0a0a"/><rect x="4.8" y="3.9" width="49" height="30.8" fill="#d4d4d4"/><rect x="55.4" y="23.1" width="3.1" height="2.5" fill="#1a1a1a"/><rect x="55.4" y="27.2" width="3.1" height="2.5" fill="#1a1a1a"/><rect x="55.4" y="30.8" width="3.1" height="2.5" fill="#1a1a1a"/><rect x="41.8" y="43.0" width="10.8" height="2.4" fill="#e0e0e0" stroke="#111" stroke-width="0.9"/><circle cx="54.6" cy="43.9" r="1.1" fill="#222"/></g><text x="1393.7" y="677.2" font-size="8" fill="#1a1a1a" stroke="#1a1a1a" stroke-width="0.25" text-anchor="middle" textLength="42" lengthAdjust="spacingAndGlyphs">Workstation</text>
<g transform="translate(1441.8 614.1)"><g filter="url(#sh)"><rect x="-0.9" y="-0.9" width="61.8" height="40.3" rx="3.2" fill="#acacac"/><rect x="-2.9" y="40.5" width="64.4" height="12.9" rx="6" fill="#a6a6a6"/></g><rect x="0" y="38.4" width="60" height="3" fill="#b4b4b4"/><rect x="0" y="0" width="60" height="38.5" rx="2.5" fill="#777"/><rect x="-2" y="41.4" width="62.6" height="11.1" rx="5.2" fill="#555"/><rect x="2.6" y="1.7" width="53.2" height="34.9" fill="#0a0a0a"/><rect x="4.8" y="3.9" width="49" height="30.8" fill="#d4d4d4"/><rect x="55.4" y="23.1" width="3.1" height="2.5" fill="#1a1a1a"/><rect x="55.4" y="27.2" width="3.1" height="2.5" fill="#1a1a1a"/><rect x="55.4" y="30.8" width="3.1" height="2.5" fill="#1a1a1a"/><rect x="41.8" y="43.0" width="10.8" height="2.4" fill="#e0e0e0" stroke="#111" stroke-width="0.9"/><circle cx="54.6" cy="43.9" r="1.1" fill="#222"/></g><text x="1471.3" y="677.2" font-size="8" fill="#1a1a1a" stroke="#1a1a1a" stroke-width="0.25" text-anchor="middle" textLength="42" lengthAdjust="spacingAndGlyphs">Workstation</text>
<g transform="translate(1519.4 614.1)"><g filter="url(#sh)"><rect x="-0.9" y="-0.9" width="61.8" height="40.3" rx="3.2" fill="#acacac"/><rect x="-2.9" y="40.5" width="64.4" height="12.9" rx="6" fill="#a6a6a6"/></g><rect x="0" y="38.4" width="60" height="3" fill="#b4b4b4"/><rect x="0" y="0" width="60" height="38.5" rx="2.5" fill="#777"/><rect x="-2" y="41.4" width="62.6" height="11.1" rx="5.2" fill="#555"/><rect x="2.6" y="1.7" width="53.2" height="34.9" fill="#0a0a0a"/><rect x="4.8" y="3.9" width="49" height="30.8" fill="#d4d4d4"/><rect x="55.4" y="23.1" width="3.1" height="2.5" fill="#1a1a1a"/><rect x="55.4" y="27.2" width="3.1" height="2.5" fill="#1a1a1a"/><rect x="55.4" y="30.8" width="3.1" height="2.5" fill="#1a1a1a"/><rect x="41.8" y="43.0" width="10.8" height="2.4" fill="#e0e0e0" stroke="#111" stroke-width="0.9"/><circle cx="54.6" cy="43.9" r="1.1" fill="#222"/></g><text x="1548.9" y="677.2" font-size="8" fill="#1a1a1a" stroke="#1a1a1a" stroke-width="0.25" text-anchor="middle" textLength="42" lengthAdjust="spacingAndGlyphs">Workstation</text>
<text x="124.4" y="107.9" font-size="40" fill="#000" text-anchor="middle" textLength="82.5" lengthAdjust="spacingAndGlyphs">Core</text>
<text x="124.3" y="157.9" font-size="40" fill="#000" text-anchor="middle" textLength="93.5" lengthAdjust="spacingAndGlyphs">Layer</text>
<text x="124.4" y="287.7" font-size="40" fill="#000" text-anchor="middle" textLength="209" lengthAdjust="spacingAndGlyphs">Distribution</text>
<text x="124.3" y="337.7" font-size="40" fill="#000" text-anchor="middle" textLength="93.5" lengthAdjust="spacingAndGlyphs">Layer</text>
<text x="124.3" y="467.3" font-size="40" fill="#000" text-anchor="middle" textLength="116.5" lengthAdjust="spacingAndGlyphs">Access</text>
<text x="124.2" y="517.3" font-size="40" fill="#000" text-anchor="middle" textLength="94" lengthAdjust="spacingAndGlyphs">Layer</text>
<defs><path id="wmt" d="M34 781.2V795.2A6.1 7 0 1 1 21.8 795.2A6.1 7 0 1 1 34 795.2M42.8 802.3V795.2C42.8 790.5 44.6 788.2 47.6 788.2M59.60 797.4L66.60 791.4C65.40 789.3 63.80 788.2 61.90 788.2C58.40 788.2 55.90 791.3 55.90 795.2C55.90 799.2 58.40 802.3 61.90 802.3L67.60 802.3M81.6 802.3A6.2 7 0 0 1 75.2 795.2A6.2 7 0 0 1 87.6 795.2V802.3M96.70 802.3V793A4.95 4.8 0 0 1 106.60 793V802.3M106.60 793A4.45 4.8 0 0 1 115.50 793V802.3M134.6 789C130.5 787.6 129.2 790.2 128.6 793.5L127.1 799.4C126.4 802 124.5 802.8 122.3 802.2M142.2 781.4V797A4.5 5.3 0 0 0 151.2 797V796.2M142.2 789.6H151.3M160.8 789V802.3M169.60 802.3V793A4.95 4.8 0 0 1 179.50 793V802.3M179.50 793A4.60 4.8 0 0 1 188.70 793V802.3M201.80 797.4L208.80 791.4C207.60 789.3 206.00 788.2 204.10 788.2C200.60 788.2 198.10 791.3 198.10 795.2C198.10 799.2 200.60 802.3 204.10 802.3L209.80 802.3"/><path id="wms" d="M165.80 781.38 L166.32 780.89 L166.80 780.35 L167.21 779.77 L167.57 779.15 L167.86 778.49 L168.09 777.81 L168.25 777.11 L168.33 776.40 L168.34 775.68 L168.29 774.97 L168.15 774.26 L167.95 773.57 L167.69 772.91 L167.35 772.28 L166.96 771.68 L166.50 771.13 L165.99 770.62 L165.44 770.17 L164.84 769.78 L164.21 769.45 L163.55 769.18 L162.86 768.99 L162.16 768.86 L161.45 768.81 L160.74 768.82 L160.03 768.91 L159.34 769.07 L158.67 769.30 L158.02 769.60 L157.41 769.96 L156.84 770.37 L156.32 770.85 L155.85 771.37 L155.43 771.93 L155.07 772.54 L154.78 773.18 L154.55 773.84 L154.40 774.52 L154.31 775.21 L154.29 775.90 L154.35 776.59 L154.47 777.27 L154.66 777.93 L154.91 778.57 L155.23 779.17 L155.61 779.74 L156.04 780.27 L156.52 780.74 L157.05 781.17 L157.61 781.53 L158.21 781.84 L158.83 782.08 L159.47 782.26 L160.12 782.36 L160.77 782.41 L161.43 782.38 L162.07 782.29 L162.70 782.14 L163.30 781.92 L163.88 781.64 L164.42 781.31 L164.92 780.92 L165.37 780.49 L165.78 780.02 L166.13 779.51 L166.42 778.98 L166.66 778.42 L166.84 777.84 L166.95 777.25 L167.00 776.66 L166.99 776.08 L166.92 775.50 L166.80 774.94 L166.61 774.40 L166.38 773.89 L166.09 773.41 L165.76 772.97 L165.39 772.57 L164.99 772.21 L164.55 771.91 L164.09 771.65 L163.62 771.45 L163.13 771.30 L162.64 771.21 L162.14 771.16 L161.65 771.18 L161.18 771.24 L160.72 771.35 L160.29 771.51 L159.88 771.71 L159.50 771.95 L159.16 772.22 L158.86 772.52 L158.60 772.85 L158.38 773.20 L158.20 773.56 L158.07 773.93 L157.99 774.30 L157.94 774.67 L157.95 775.03 L157.99 775.38 L158.07 775.71 L158.18 776.02 L158.33 776.30 L158.51 776.56 L158.70 776.78 L158.92 776.97 L159.15 777.13 L159.39 777.25 L159.64 777.33 L159.88 777.38 L160.12 777.39 L160.35 777.36 L160.56 777.31 L160.75 777.23 L160.92 777.12 L161.06 776.99 L161.18 776.84 L161.26 776.68 L161.31 776.51"/></defs><mask id="wmask" maskUnits="userSpaceOnUse" x="0" y="0" width="1600" height="831"><path d="M370.19 269.90 L372.58 267.68 L374.73 265.23 L376.63 262.58 L378.26 259.75 L379.59 256.78 L380.61 253.68 L381.32 250.50 L381.71 247.27 L381.77 244.01 L381.50 240.76 L380.91 237.56 L380.00 234.43 L378.78 231.41 L377.26 228.53 L375.46 225.82 L373.40 223.30 L371.10 221.01 L368.57 218.96 L365.86 217.17 L362.98 215.67 L359.96 214.47 L356.84 213.58 L353.65 213.00 L350.43 212.76 L347.19 212.84 L343.99 213.24 L340.84 213.97 L337.79 215.01 L334.86 216.35 L332.09 217.98 L329.50 219.88 L327.11 222.03 L324.97 224.40 L323.07 226.97 L321.45 229.72 L320.12 232.61 L319.09 235.62 L318.38 238.71 L317.98 241.85 L317.90 245.00 L318.14 248.14 L318.70 251.23 L319.57 254.23 L320.73 257.13 L322.18 259.88 L323.89 262.46 L325.86 264.85 L328.04 267.01 L330.43 268.93 L332.99 270.60 L335.70 271.99 L338.52 273.09 L341.42 273.89 L344.38 274.39 L347.36 274.58 L350.33 274.46 L353.25 274.05 L356.10 273.34 L358.85 272.35 L361.47 271.09 L363.92 269.58 L366.20 267.83 L368.26 265.88 L370.10 263.73 L371.70 261.43 L373.05 258.99 L374.12 256.44 L374.92 253.82 L375.44 251.16 L375.68 248.47 L375.64 245.80 L375.32 243.18 L374.74 240.63 L373.91 238.18 L372.83 235.85 L371.54 233.67 L370.04 231.66 L368.35 229.85 L366.51 228.23 L364.53 226.84 L362.45 225.69 L360.29 224.77 L358.07 224.09 L355.82 223.66 L353.58 223.48 L351.37 223.53 L349.21 223.82 L347.13 224.33 L345.15 225.04 L343.29 225.95 L341.58 227.04 L340.03 228.28 L338.65 229.65 L337.46 231.14 L336.47 232.72 L335.67 234.35 L335.08 236.03 L334.69 237.72 L334.50 239.39 L334.51 241.04 L334.70 242.62 L335.06 244.13 L335.59 245.54 L336.26 246.83 L337.06 248.00 L337.96 249.02 L338.95 249.88 L340.00 250.59 L341.09 251.13 L342.20 251.50 L343.31 251.71 L344.39 251.76 L345.42 251.65 L346.38 251.40 L347.25 251.02 L348.02 250.53 L348.67 249.94 L349.19 249.26 L349.56 248.53 L349.79 247.76 M969.89 268.40 L972.28 266.18 L974.43 263.73 L976.33 261.08 L977.96 258.25 L979.29 255.28 L980.31 252.18 L981.02 249.00 L981.41 245.77 L981.47 242.51 L981.20 239.26 L980.61 236.06 L979.70 232.93 L978.48 229.91 L976.96 227.03 L975.16 224.32 L973.10 221.80 L970.80 219.51 L968.27 217.46 L965.56 215.67 L962.68 214.17 L959.66 212.97 L956.54 212.08 L953.35 211.50 L950.13 211.26 L946.89 211.34 L943.69 211.74 L940.54 212.47 L937.49 213.51 L934.56 214.85 L931.79 216.48 L929.20 218.38 L926.81 220.53 L924.67 222.90 L922.77 225.47 L921.15 228.22 L919.82 231.11 L918.79 234.12 L918.08 237.21 L917.68 240.35 L917.60 243.50 L917.84 246.64 L918.40 249.73 L919.27 252.73 L920.43 255.63 L921.88 258.38 L923.59 260.96 L925.56 263.35 L927.74 265.51 L930.13 267.43 L932.69 269.10 L935.40 270.49 L938.22 271.59 L941.12 272.39 L944.08 272.89 L947.06 273.08 L950.03 272.96 L952.95 272.55 L955.80 271.84 L958.55 270.85 L961.17 269.59 L963.62 268.08 L965.90 266.33 L967.96 264.38 L969.80 262.23 L971.40 259.93 L972.75 257.49 L973.82 254.94 L974.62 252.32 L975.14 249.66 L975.38 246.97 L975.34 244.30 L975.02 241.68 L974.44 239.13 L973.61 236.68 L972.53 234.35 L971.24 232.17 L969.74 230.16 L968.05 228.35 L966.21 226.73 L964.23 225.34 L962.15 224.19 L959.99 223.27 L957.77 222.59 L955.52 222.16 L953.28 221.98 L951.07 222.03 L948.91 222.32 L946.83 222.83 L944.85 223.54 L942.99 224.45 L941.28 225.54 L939.73 226.78 L938.35 228.15 L937.16 229.64 L936.17 231.22 L935.37 232.85 L934.78 234.53 L934.39 236.22 L934.20 237.89 L934.21 239.54 L934.40 241.12 L934.76 242.63 L935.29 244.04 L935.96 245.33 L936.76 246.50 L937.66 247.52 L938.65 248.38 L939.70 249.09 L940.79 249.63 L941.90 250.00 L943.01 250.21 L944.09 250.26 L945.12 250.15 L946.08 249.90 L946.95 249.52 L947.72 249.03 L948.37 248.44 L948.89 247.76 L949.26 247.03 L949.49 246.26 M1569.89 268.40 L1572.28 266.18 L1574.43 263.73 L1576.33 261.08 L1577.96 258.25 L1579.29 255.28 L1580.31 252.18 L1581.02 249.00 L1581.41 245.77 L1581.47 242.51 L1581.20 239.26 L1580.61 236.06 L1579.70 232.93 L1578.48 229.91 L1576.96 227.03 L1575.16 224.32 L1573.10 221.80 L1570.80 219.51 L1568.27 217.46 L1565.56 215.67 L1562.68 214.17 L1559.66 212.97 L1556.54 212.08 L1553.35 211.50 L1550.13 211.26 L1546.89 211.34 L1543.69 211.74 L1540.54 212.47 L1537.49 213.51 L1534.56 214.85 L1531.79 216.48 L1529.20 218.38 L1526.81 220.53 L1524.67 222.90 L1522.77 225.47 L1521.15 228.22 L1519.82 231.11 L1518.79 234.12 L1518.08 237.21 L1517.68 240.35 L1517.60 243.50 L1517.84 246.64 L1518.40 249.73 L1519.27 252.73 L1520.43 255.63 L1521.88 258.38 L1523.59 260.96 L1525.56 263.35 L1527.74 265.51 L1530.13 267.43 L1532.69 269.10 L1535.40 270.49 L1538.22 271.59 L1541.12 272.39 L1544.08 272.89 L1547.06 273.08 L1550.03 272.96 L1552.95 272.55 L1555.80 271.84 L1558.55 270.85 L1561.17 269.59 L1563.62 268.08 L1565.90 266.33 L1567.96 264.38 L1569.80 262.23 L1571.40 259.93 L1572.75 257.49 L1573.82 254.94 L1574.62 252.32 L1575.14 249.66 L1575.38 246.97 L1575.34 244.30 L1575.02 241.68 L1574.44 239.13 L1573.61 236.68 L1572.53 234.35 L1571.24 232.17 L1569.74 230.16 L1568.05 228.35 L1566.21 226.73 L1564.23 225.34 L1562.15 224.19 L1559.99 223.27 L1557.77 222.59 L1555.52 222.16 L1553.28 221.98 L1551.07 222.03 L1548.91 222.32 L1546.83 222.83 L1544.85 223.54 L1542.99 224.45 L1541.28 225.54 L1539.73 226.78 L1538.35 228.15 L1537.16 229.64 L1536.17 231.22 L1535.37 232.85 L1534.78 234.53 L1534.39 236.22 L1534.20 237.89 L1534.21 239.54 L1534.40 241.12 L1534.76 242.63 L1535.29 244.04 L1535.96 245.33 L1536.76 246.50 L1537.66 247.52 L1538.65 248.38 L1539.70 249.09 L1540.79 249.63 L1541.90 250.00 L1543.01 250.21 L1544.09 250.26 L1545.12 250.15 L1546.08 249.90 L1546.95 249.52 L1547.72 249.03 L1548.37 248.44 L1548.89 247.76 L1549.26 247.03 L1549.49 246.26 M70.29 568.70 L72.68 566.48 L74.83 564.03 L76.73 561.38 L78.36 558.55 L79.69 555.58 L80.71 552.48 L81.42 549.30 L81.81 546.07 L81.87 542.81 L81.60 539.56 L81.01 536.36 L80.10 533.23 L78.88 530.21 L77.36 527.33 L75.56 524.62 L73.50 522.10 L71.20 519.81 L68.67 517.76 L65.96 515.97 L63.08 514.47 L60.06 513.27 L56.94 512.38 L53.75 511.80 L50.53 511.56 L47.29 511.64 L44.09 512.04 L40.94 512.77 L37.89 513.81 L34.96 515.15 L32.19 516.78 L29.60 518.68 L27.21 520.83 L25.07 523.20 L23.17 525.77 L21.55 528.52 L20.22 531.41 L19.19 534.42 L18.48 537.51 L18.08 540.65 L18.00 543.80 L18.24 546.94 L18.80 550.03 L19.67 553.03 L20.83 555.93 L22.28 558.68 L23.99 561.26 L25.96 563.65 L28.14 565.81 L30.53 567.73 L33.09 569.40 L35.80 570.79 L38.62 571.89 L41.52 572.69 L44.48 573.19 L47.46 573.38 L50.43 573.26 L53.35 572.85 L56.20 572.14 L58.95 571.15 L61.57 569.89 L64.02 568.38 L66.30 566.63 L68.36 564.68 L70.20 562.53 L71.80 560.23 L73.15 557.79 L74.22 555.24 L75.02 552.62 L75.54 549.96 L75.78 547.27 L75.74 544.60 L75.42 541.98 L74.84 539.43 L74.01 536.98 L72.93 534.65 L71.64 532.47 L70.14 530.46 L68.45 528.65 L66.61 527.03 L64.63 525.64 L62.55 524.49 L60.39 523.57 L58.17 522.89 L55.92 522.46 L53.68 522.28 L51.47 522.33 L49.31 522.62 L47.23 523.13 L45.25 523.84 L43.39 524.75 L41.68 525.84 L40.13 527.08 L38.75 528.45 L37.56 529.94 L36.57 531.52 L35.77 533.15 L35.18 534.83 L34.79 536.52 L34.60 538.19 L34.61 539.84 L34.80 541.42 L35.16 542.93 L35.69 544.34 L36.36 545.63 L37.16 546.80 L38.06 547.82 L39.05 548.68 L40.10 549.39 L41.19 549.93 L42.30 550.30 L43.41 550.51 L44.49 550.56 L45.52 550.45 L46.48 550.20 L47.35 549.82 L48.12 549.33 L48.77 548.74 L49.29 548.06 L49.66 547.33 L49.89 546.56 M670.09 568.40 L672.48 566.18 L674.63 563.73 L676.53 561.08 L678.16 558.25 L679.49 555.28 L680.51 552.18 L681.22 549.00 L681.61 545.77 L681.67 542.51 L681.40 539.26 L680.81 536.06 L679.90 532.93 L678.68 529.91 L677.16 527.03 L675.36 524.32 L673.30 521.80 L671.00 519.51 L668.47 517.46 L665.76 515.67 L662.88 514.17 L659.86 512.97 L656.74 512.08 L653.55 511.50 L650.33 511.26 L647.09 511.34 L643.89 511.74 L640.74 512.47 L637.69 513.51 L634.76 514.85 L631.99 516.48 L629.40 518.38 L627.01 520.53 L624.87 522.90 L622.97 525.47 L621.35 528.22 L620.02 531.11 L618.99 534.12 L618.28 537.21 L617.88 540.35 L617.80 543.50 L618.04 546.64 L618.60 549.73 L619.47 552.73 L620.63 555.63 L622.08 558.38 L623.79 560.96 L625.76 563.35 L627.94 565.51 L630.33 567.43 L632.89 569.10 L635.60 570.49 L638.42 571.59 L641.32 572.39 L644.28 572.89 L647.26 573.08 L650.23 572.96 L653.15 572.55 L656.00 571.84 L658.75 570.85 L661.37 569.59 L663.82 568.08 L666.10 566.33 L668.16 564.38 L670.00 562.23 L671.60 559.93 L672.95 557.49 L674.02 554.94 L674.82 552.32 L675.34 549.66 L675.58 546.97 L675.54 544.30 L675.22 541.68 L674.64 539.13 L673.81 536.68 L672.73 534.35 L671.44 532.17 L669.94 530.16 L668.25 528.35 L666.41 526.73 L664.43 525.34 L662.35 524.19 L660.19 523.27 L657.97 522.59 L655.72 522.16 L653.48 521.98 L651.27 522.03 L649.11 522.32 L647.03 522.83 L645.05 523.54 L643.19 524.45 L641.48 525.54 L639.93 526.78 L638.55 528.15 L637.36 529.64 L636.37 531.22 L635.57 532.85 L634.98 534.53 L634.59 536.22 L634.40 537.89 L634.41 539.54 L634.60 541.12 L634.96 542.63 L635.49 544.04 L636.16 545.33 L636.96 546.50 L637.86 547.52 L638.85 548.38 L639.90 549.09 L640.99 549.63 L642.10 550.00 L643.21 550.21 L644.29 550.26 L645.32 550.15 L646.28 549.90 L647.15 549.52 L647.92 549.03 L648.57 548.44 L649.09 547.76 L649.46 547.03 L649.69 546.26 M1269.89 567.40 L1272.28 565.18 L1274.43 562.73 L1276.33 560.08 L1277.96 557.25 L1279.29 554.28 L1280.31 551.18 L1281.02 548.00 L1281.41 544.77 L1281.47 541.51 L1281.20 538.26 L1280.61 535.06 L1279.70 531.93 L1278.48 528.91 L1276.96 526.03 L1275.16 523.32 L1273.10 520.80 L1270.80 518.51 L1268.27 516.46 L1265.56 514.67 L1262.68 513.17 L1259.66 511.97 L1256.54 511.08 L1253.35 510.50 L1250.13 510.26 L1246.89 510.34 L1243.69 510.74 L1240.54 511.47 L1237.49 512.51 L1234.56 513.85 L1231.79 515.48 L1229.20 517.38 L1226.81 519.53 L1224.67 521.90 L1222.77 524.47 L1221.15 527.22 L1219.82 530.11 L1218.79 533.12 L1218.08 536.21 L1217.68 539.35 L1217.60 542.50 L1217.84 545.64 L1218.40 548.73 L1219.27 551.73 L1220.43 554.63 L1221.88 557.38 L1223.59 559.96 L1225.56 562.35 L1227.74 564.51 L1230.13 566.43 L1232.69 568.10 L1235.40 569.49 L1238.22 570.59 L1241.12 571.39 L1244.08 571.89 L1247.06 572.08 L1250.03 571.96 L1252.95 571.55 L1255.80 570.84 L1258.55 569.85 L1261.17 568.59 L1263.62 567.08 L1265.90 565.33 L1267.96 563.38 L1269.80 561.23 L1271.40 558.93 L1272.75 556.49 L1273.82 553.94 L1274.62 551.32 L1275.14 548.66 L1275.38 545.97 L1275.34 543.30 L1275.02 540.68 L1274.44 538.13 L1273.61 535.68 L1272.53 533.35 L1271.24 531.17 L1269.74 529.16 L1268.05 527.35 L1266.21 525.73 L1264.23 524.34 L1262.15 523.19 L1259.99 522.27 L1257.77 521.59 L1255.52 521.16 L1253.28 520.98 L1251.07 521.03 L1248.91 521.32 L1246.83 521.83 L1244.85 522.54 L1242.99 523.45 L1241.28 524.54 L1239.73 525.78 L1238.35 527.15 L1237.16 528.64 L1236.17 530.22 L1235.37 531.85 L1234.78 533.53 L1234.39 535.22 L1234.20 536.89 L1234.21 538.54 L1234.40 540.12 L1234.76 541.63 L1235.29 543.04 L1235.96 544.33 L1236.76 545.50 L1237.66 546.52 L1238.65 547.38 L1239.70 548.09 L1240.79 548.63 L1241.90 549.00 L1243.01 549.21 L1244.09 549.26 L1245.12 549.15 L1246.08 548.90 L1246.95 548.52 L1247.72 548.03 L1248.37 547.44 L1248.89 546.76 L1249.26 546.03 L1249.49 545.26" fill="none" stroke="#fff" stroke-width="13.2" stroke-linecap="round"/><g transform="translate(-7.5 306) rotate(-45) scale(0.9) translate(-20 -802.3)" fill="none" stroke="#fff" stroke-linecap="round" stroke-linejoin="round"><use href="#wmt" stroke-width="5.3"/><use href="#wms" stroke-width="3.7"/></g><g transform="translate(592.5 306) rotate(-45) scale(0.9) translate(-20 -802.3)" fill="none" stroke="#fff" stroke-linecap="round" stroke-linejoin="round"><use href="#wmt" stroke-width="5.3"/><use href="#wms" stroke-width="3.7"/></g><g transform="translate(1192.5 306) rotate(-45) scale(0.9) translate(-20 -802.3)" fill="none" stroke="#fff" stroke-linecap="round" stroke-linejoin="round"><use href="#wmt" stroke-width="5.3"/><use href="#wms" stroke-width="3.7"/></g><g transform="translate(292.5 608) rotate(-45) scale(0.9) translate(-20 -802.3)" fill="none" stroke="#fff" stroke-linecap="round" stroke-linejoin="round"><use href="#wmt" stroke-width="5.3"/><use href="#wms" stroke-width="3.7"/></g><g transform="translate(892.5 608) rotate(-45) scale(0.9) translate(-20 -802.3)" fill="none" stroke="#fff" stroke-linecap="round" stroke-linejoin="round"><use href="#wmt" stroke-width="5.3"/><use href="#wms" stroke-width="3.7"/></g><g transform="translate(1492.5 608) rotate(-45) scale(0.9) translate(-20 -802.3)" fill="none" stroke="#fff" stroke-linecap="round" stroke-linejoin="round"><use href="#wmt" stroke-width="5.3"/><use href="#wms" stroke-width="3.7"/></g><path d="M370.19 269.90 L372.58 267.68 L374.73 265.23 L376.63 262.58 L378.26 259.75 L379.59 256.78 L380.61 253.68 L381.32 250.50 L381.71 247.27 L381.77 244.01 L381.50 240.76 L380.91 237.56 L380.00 234.43 L378.78 231.41 L377.26 228.53 L375.46 225.82 L373.40 223.30 L371.10 221.01 L368.57 218.96 L365.86 217.17 L362.98 215.67 L359.96 214.47 L356.84 213.58 L353.65 213.00 L350.43 212.76 L347.19 212.84 L343.99 213.24 L340.84 213.97 L337.79 215.01 L334.86 216.35 L332.09 217.98 L329.50 219.88 L327.11 222.03 L324.97 224.40 L323.07 226.97 L321.45 229.72 L320.12 232.61 L319.09 235.62 L318.38 238.71 L317.98 241.85 L317.90 245.00 L318.14 248.14 L318.70 251.23 L319.57 254.23 L320.73 257.13 L322.18 259.88 L323.89 262.46 L325.86 264.85 L328.04 267.01 L330.43 268.93 L332.99 270.60 L335.70 271.99 L338.52 273.09 L341.42 273.89 L344.38 274.39 L347.36 274.58 L350.33 274.46 L353.25 274.05 L356.10 273.34 L358.85 272.35 L361.47 271.09 L363.92 269.58 L366.20 267.83 L368.26 265.88 L370.10 263.73 L371.70 261.43 L373.05 258.99 L374.12 256.44 L374.92 253.82 L375.44 251.16 L375.68 248.47 L375.64 245.80 L375.32 243.18 L374.74 240.63 L373.91 238.18 L372.83 235.85 L371.54 233.67 L370.04 231.66 L368.35 229.85 L366.51 228.23 L364.53 226.84 L362.45 225.69 L360.29 224.77 L358.07 224.09 L355.82 223.66 L353.58 223.48 L351.37 223.53 L349.21 223.82 L347.13 224.33 L345.15 225.04 L343.29 225.95 L341.58 227.04 L340.03 228.28 L338.65 229.65 L337.46 231.14 L336.47 232.72 L335.67 234.35 L335.08 236.03 L334.69 237.72 L334.50 239.39 L334.51 241.04 L334.70 242.62 L335.06 244.13 L335.59 245.54 L336.26 246.83 L337.06 248.00 L337.96 249.02 L338.95 249.88 L340.00 250.59 L341.09 251.13 L342.20 251.50 L343.31 251.71 L344.39 251.76 L345.42 251.65 L346.38 251.40 L347.25 251.02 L348.02 250.53 L348.67 249.94 L349.19 249.26 L349.56 248.53 L349.79 247.76 M969.89 268.40 L972.28 266.18 L974.43 263.73 L976.33 261.08 L977.96 258.25 L979.29 255.28 L980.31 252.18 L981.02 249.00 L981.41 245.77 L981.47 242.51 L981.20 239.26 L980.61 236.06 L979.70 232.93 L978.48 229.91 L976.96 227.03 L975.16 224.32 L973.10 221.80 L970.80 219.51 L968.27 217.46 L965.56 215.67 L962.68 214.17 L959.66 212.97 L956.54 212.08 L953.35 211.50 L950.13 211.26 L946.89 211.34 L943.69 211.74 L940.54 212.47 L937.49 213.51 L934.56 214.85 L931.79 216.48 L929.20 218.38 L926.81 220.53 L924.67 222.90 L922.77 225.47 L921.15 228.22 L919.82 231.11 L918.79 234.12 L918.08 237.21 L917.68 240.35 L917.60 243.50 L917.84 246.64 L918.40 249.73 L919.27 252.73 L920.43 255.63 L921.88 258.38 L923.59 260.96 L925.56 263.35 L927.74 265.51 L930.13 267.43 L932.69 269.10 L935.40 270.49 L938.22 271.59 L941.12 272.39 L944.08 272.89 L947.06 273.08 L950.03 272.96 L952.95 272.55 L955.80 271.84 L958.55 270.85 L961.17 269.59 L963.62 268.08 L965.90 266.33 L967.96 264.38 L969.80 262.23 L971.40 259.93 L972.75 257.49 L973.82 254.94 L974.62 252.32 L975.14 249.66 L975.38 246.97 L975.34 244.30 L975.02 241.68 L974.44 239.13 L973.61 236.68 L972.53 234.35 L971.24 232.17 L969.74 230.16 L968.05 228.35 L966.21 226.73 L964.23 225.34 L962.15 224.19 L959.99 223.27 L957.77 222.59 L955.52 222.16 L953.28 221.98 L951.07 222.03 L948.91 222.32 L946.83 222.83 L944.85 223.54 L942.99 224.45 L941.28 225.54 L939.73 226.78 L938.35 228.15 L937.16 229.64 L936.17 231.22 L935.37 232.85 L934.78 234.53 L934.39 236.22 L934.20 237.89 L934.21 239.54 L934.40 241.12 L934.76 242.63 L935.29 244.04 L935.96 245.33 L936.76 246.50 L937.66 247.52 L938.65 248.38 L939.70 249.09 L940.79 249.63 L941.90 250.00 L943.01 250.21 L944.09 250.26 L945.12 250.15 L946.08 249.90 L946.95 249.52 L947.72 249.03 L948.37 248.44 L948.89 247.76 L949.26 247.03 L949.49 246.26 M1569.89 268.40 L1572.28 266.18 L1574.43 263.73 L1576.33 261.08 L1577.96 258.25 L1579.29 255.28 L1580.31 252.18 L1581.02 249.00 L1581.41 245.77 L1581.47 242.51 L1581.20 239.26 L1580.61 236.06 L1579.70 232.93 L1578.48 229.91 L1576.96 227.03 L1575.16 224.32 L1573.10 221.80 L1570.80 219.51 L1568.27 217.46 L1565.56 215.67 L1562.68 214.17 L1559.66 212.97 L1556.54 212.08 L1553.35 211.50 L1550.13 211.26 L1546.89 211.34 L1543.69 211.74 L1540.54 212.47 L1537.49 213.51 L1534.56 214.85 L1531.79 216.48 L1529.20 218.38 L1526.81 220.53 L1524.67 222.90 L1522.77 225.47 L1521.15 228.22 L1519.82 231.11 L1518.79 234.12 L1518.08 237.21 L1517.68 240.35 L1517.60 243.50 L1517.84 246.64 L1518.40 249.73 L1519.27 252.73 L1520.43 255.63 L1521.88 258.38 L1523.59 260.96 L1525.56 263.35 L1527.74 265.51 L1530.13 267.43 L1532.69 269.10 L1535.40 270.49 L1538.22 271.59 L1541.12 272.39 L1544.08 272.89 L1547.06 273.08 L1550.03 272.96 L1552.95 272.55 L1555.80 271.84 L1558.55 270.85 L1561.17 269.59 L1563.62 268.08 L1565.90 266.33 L1567.96 264.38 L1569.80 262.23 L1571.40 259.93 L1572.75 257.49 L1573.82 254.94 L1574.62 252.32 L1575.14 249.66 L1575.38 246.97 L1575.34 244.30 L1575.02 241.68 L1574.44 239.13 L1573.61 236.68 L1572.53 234.35 L1571.24 232.17 L1569.74 230.16 L1568.05 228.35 L1566.21 226.73 L1564.23 225.34 L1562.15 224.19 L1559.99 223.27 L1557.77 222.59 L1555.52 222.16 L1553.28 221.98 L1551.07 222.03 L1548.91 222.32 L1546.83 222.83 L1544.85 223.54 L1542.99 224.45 L1541.28 225.54 L1539.73 226.78 L1538.35 228.15 L1537.16 229.64 L1536.17 231.22 L1535.37 232.85 L1534.78 234.53 L1534.39 236.22 L1534.20 237.89 L1534.21 239.54 L1534.40 241.12 L1534.76 242.63 L1535.29 244.04 L1535.96 245.33 L1536.76 246.50 L1537.66 247.52 L1538.65 248.38 L1539.70 249.09 L1540.79 249.63 L1541.90 250.00 L1543.01 250.21 L1544.09 250.26 L1545.12 250.15 L1546.08 249.90 L1546.95 249.52 L1547.72 249.03 L1548.37 248.44 L1548.89 247.76 L1549.26 247.03 L1549.49 246.26 M70.29 568.70 L72.68 566.48 L74.83 564.03 L76.73 561.38 L78.36 558.55 L79.69 555.58 L80.71 552.48 L81.42 549.30 L81.81 546.07 L81.87 542.81 L81.60 539.56 L81.01 536.36 L80.10 533.23 L78.88 530.21 L77.36 527.33 L75.56 524.62 L73.50 522.10 L71.20 519.81 L68.67 517.76 L65.96 515.97 L63.08 514.47 L60.06 513.27 L56.94 512.38 L53.75 511.80 L50.53 511.56 L47.29 511.64 L44.09 512.04 L40.94 512.77 L37.89 513.81 L34.96 515.15 L32.19 516.78 L29.60 518.68 L27.21 520.83 L25.07 523.20 L23.17 525.77 L21.55 528.52 L20.22 531.41 L19.19 534.42 L18.48 537.51 L18.08 540.65 L18.00 543.80 L18.24 546.94 L18.80 550.03 L19.67 553.03 L20.83 555.93 L22.28 558.68 L23.99 561.26 L25.96 563.65 L28.14 565.81 L30.53 567.73 L33.09 569.40 L35.80 570.79 L38.62 571.89 L41.52 572.69 L44.48 573.19 L47.46 573.38 L50.43 573.26 L53.35 572.85 L56.20 572.14 L58.95 571.15 L61.57 569.89 L64.02 568.38 L66.30 566.63 L68.36 564.68 L70.20 562.53 L71.80 560.23 L73.15 557.79 L74.22 555.24 L75.02 552.62 L75.54 549.96 L75.78 547.27 L75.74 544.60 L75.42 541.98 L74.84 539.43 L74.01 536.98 L72.93 534.65 L71.64 532.47 L70.14 530.46 L68.45 528.65 L66.61 527.03 L64.63 525.64 L62.55 524.49 L60.39 523.57 L58.17 522.89 L55.92 522.46 L53.68 522.28 L51.47 522.33 L49.31 522.62 L47.23 523.13 L45.25 523.84 L43.39 524.75 L41.68 525.84 L40.13 527.08 L38.75 528.45 L37.56 529.94 L36.57 531.52 L35.77 533.15 L35.18 534.83 L34.79 536.52 L34.60 538.19 L34.61 539.84 L34.80 541.42 L35.16 542.93 L35.69 544.34 L36.36 545.63 L37.16 546.80 L38.06 547.82 L39.05 548.68 L40.10 549.39 L41.19 549.93 L42.30 550.30 L43.41 550.51 L44.49 550.56 L45.52 550.45 L46.48 550.20 L47.35 549.82 L48.12 549.33 L48.77 548.74 L49.29 548.06 L49.66 547.33 L49.89 546.56 M670.09 568.40 L672.48 566.18 L674.63 563.73 L676.53 561.08 L678.16 558.25 L679.49 555.28 L680.51 552.18 L681.22 549.00 L681.61 545.77 L681.67 542.51 L681.40 539.26 L680.81 536.06 L679.90 532.93 L678.68 529.91 L677.16 527.03 L675.36 524.32 L673.30 521.80 L671.00 519.51 L668.47 517.46 L665.76 515.67 L662.88 514.17 L659.86 512.97 L656.74 512.08 L653.55 511.50 L650.33 511.26 L647.09 511.34 L643.89 511.74 L640.74 512.47 L637.69 513.51 L634.76 514.85 L631.99 516.48 L629.40 518.38 L627.01 520.53 L624.87 522.90 L622.97 525.47 L621.35 528.22 L620.02 531.11 L618.99 534.12 L618.28 537.21 L617.88 540.35 L617.80 543.50 L618.04 546.64 L618.60 549.73 L619.47 552.73 L620.63 555.63 L622.08 558.38 L623.79 560.96 L625.76 563.35 L627.94 565.51 L630.33 567.43 L632.89 569.10 L635.60 570.49 L638.42 571.59 L641.32 572.39 L644.28 572.89 L647.26 573.08 L650.23 572.96 L653.15 572.55 L656.00 571.84 L658.75 570.85 L661.37 569.59 L663.82 568.08 L666.10 566.33 L668.16 564.38 L670.00 562.23 L671.60 559.93 L672.95 557.49 L674.02 554.94 L674.82 552.32 L675.34 549.66 L675.58 546.97 L675.54 544.30 L675.22 541.68 L674.64 539.13 L673.81 536.68 L672.73 534.35 L671.44 532.17 L669.94 530.16 L668.25 528.35 L666.41 526.73 L664.43 525.34 L662.35 524.19 L660.19 523.27 L657.97 522.59 L655.72 522.16 L653.48 521.98 L651.27 522.03 L649.11 522.32 L647.03 522.83 L645.05 523.54 L643.19 524.45 L641.48 525.54 L639.93 526.78 L638.55 528.15 L637.36 529.64 L636.37 531.22 L635.57 532.85 L634.98 534.53 L634.59 536.22 L634.40 537.89 L634.41 539.54 L634.60 541.12 L634.96 542.63 L635.49 544.04 L636.16 545.33 L636.96 546.50 L637.86 547.52 L638.85 548.38 L639.90 549.09 L640.99 549.63 L642.10 550.00 L643.21 550.21 L644.29 550.26 L645.32 550.15 L646.28 549.90 L647.15 549.52 L647.92 549.03 L648.57 548.44 L649.09 547.76 L649.46 547.03 L649.69 546.26 M1269.89 567.40 L1272.28 565.18 L1274.43 562.73 L1276.33 560.08 L1277.96 557.25 L1279.29 554.28 L1280.31 551.18 L1281.02 548.00 L1281.41 544.77 L1281.47 541.51 L1281.20 538.26 L1280.61 535.06 L1279.70 531.93 L1278.48 528.91 L1276.96 526.03 L1275.16 523.32 L1273.10 520.80 L1270.80 518.51 L1268.27 516.46 L1265.56 514.67 L1262.68 513.17 L1259.66 511.97 L1256.54 511.08 L1253.35 510.50 L1250.13 510.26 L1246.89 510.34 L1243.69 510.74 L1240.54 511.47 L1237.49 512.51 L1234.56 513.85 L1231.79 515.48 L1229.20 517.38 L1226.81 519.53 L1224.67 521.90 L1222.77 524.47 L1221.15 527.22 L1219.82 530.11 L1218.79 533.12 L1218.08 536.21 L1217.68 539.35 L1217.60 542.50 L1217.84 545.64 L1218.40 548.73 L1219.27 551.73 L1220.43 554.63 L1221.88 557.38 L1223.59 559.96 L1225.56 562.35 L1227.74 564.51 L1230.13 566.43 L1232.69 568.10 L1235.40 569.49 L1238.22 570.59 L1241.12 571.39 L1244.08 571.89 L1247.06 572.08 L1250.03 571.96 L1252.95 571.55 L1255.80 570.84 L1258.55 569.85 L1261.17 568.59 L1263.62 567.08 L1265.90 565.33 L1267.96 563.38 L1269.80 561.23 L1271.40 558.93 L1272.75 556.49 L1273.82 553.94 L1274.62 551.32 L1275.14 548.66 L1275.38 545.97 L1275.34 543.30 L1275.02 540.68 L1274.44 538.13 L1273.61 535.68 L1272.53 533.35 L1271.24 531.17 L1269.74 529.16 L1268.05 527.35 L1266.21 525.73 L1264.23 524.34 L1262.15 523.19 L1259.99 522.27 L1257.77 521.59 L1255.52 521.16 L1253.28 520.98 L1251.07 521.03 L1248.91 521.32 L1246.83 521.83 L1244.85 522.54 L1242.99 523.45 L1241.28 524.54 L1239.73 525.78 L1238.35 527.15 L1237.16 528.64 L1236.17 530.22 L1235.37 531.85 L1234.78 533.53 L1234.39 535.22 L1234.20 536.89 L1234.21 538.54 L1234.40 540.12 L1234.76 541.63 L1235.29 543.04 L1235.96 544.33 L1236.76 545.50 L1237.66 546.52 L1238.65 547.38 L1239.70 548.09 L1240.79 548.63 L1241.90 549.00 L1243.01 549.21 L1244.09 549.26 L1245.12 549.15 L1246.08 548.90 L1246.95 548.52 L1247.72 548.03 L1248.37 547.44 L1248.89 546.76 L1249.26 546.03 L1249.49 545.26" fill="none" stroke="#000" stroke-width="10.6" stroke-linecap="round"/><g transform="translate(-7.5 306) rotate(-45) scale(0.9) translate(-20 -802.3)" fill="none" stroke="#000" stroke-linecap="round" stroke-linejoin="round"><use href="#wmt" stroke-width="3.0"/><use href="#wms" stroke-width="1.5"/></g><g transform="translate(592.5 306) rotate(-45) scale(0.9) translate(-20 -802.3)" fill="none" stroke="#000" stroke-linecap="round" stroke-linejoin="round"><use href="#wmt" stroke-width="3.0"/><use href="#wms" stroke-width="1.5"/></g><g transform="translate(1192.5 306) rotate(-45) scale(0.9) translate(-20 -802.3)" fill="none" stroke="#000" stroke-linecap="round" stroke-linejoin="round"><use href="#wmt" stroke-width="3.0"/><use href="#wms" stroke-width="1.5"/></g><g transform="translate(292.5 608) rotate(-45) scale(0.9) translate(-20 -802.3)" fill="none" stroke="#000" stroke-linecap="round" stroke-linejoin="round"><use href="#wmt" stroke-width="3.0"/><use href="#wms" stroke-width="1.5"/></g><g transform="translate(892.5 608) rotate(-45) scale(0.9) translate(-20 -802.3)" fill="none" stroke="#000" stroke-linecap="round" stroke-linejoin="round"><use href="#wmt" stroke-width="3.0"/><use href="#wms" stroke-width="1.5"/></g><g transform="translate(1492.5 608) rotate(-45) scale(0.9) translate(-20 -802.3)" fill="none" stroke="#000" stroke-linecap="round" stroke-linejoin="round"><use href="#wmt" stroke-width="3.0"/><use href="#wms" stroke-width="1.5"/></g></mask><path d="M370.19 269.90 L372.58 267.68 L374.73 265.23 L376.63 262.58 L378.26 259.75 L379.59 256.78 L380.61 253.68 L381.32 250.50 L381.71 247.27 L381.77 244.01 L381.50 240.76 L380.91 237.56 L380.00 234.43 L378.78 231.41 L377.26 228.53 L375.46 225.82 L373.40 223.30 L371.10 221.01 L368.57 218.96 L365.86 217.17 L362.98 215.67 L359.96 214.47 L356.84 213.58 L353.65 213.00 L350.43 212.76 L347.19 212.84 L343.99 213.24 L340.84 213.97 L337.79 215.01 L334.86 216.35 L332.09 217.98 L329.50 219.88 L327.11 222.03 L324.97 224.40 L323.07 226.97 L321.45 229.72 L320.12 232.61 L319.09 235.62 L318.38 238.71 L317.98 241.85 L317.90 245.00 L318.14 248.14 L318.70 251.23 L319.57 254.23 L320.73 257.13 L322.18 259.88 L323.89 262.46 L325.86 264.85 L328.04 267.01 L330.43 268.93 L332.99 270.60 L335.70 271.99 L338.52 273.09 L341.42 273.89 L344.38 274.39 L347.36 274.58 L350.33 274.46 L353.25 274.05 L356.10 273.34 L358.85 272.35 L361.47 271.09 L363.92 269.58 L366.20 267.83 L368.26 265.88 L370.10 263.73 L371.70 261.43 L373.05 258.99 L374.12 256.44 L374.92 253.82 L375.44 251.16 L375.68 248.47 L375.64 245.80 L375.32 243.18 L374.74 240.63 L373.91 238.18 L372.83 235.85 L371.54 233.67 L370.04 231.66 L368.35 229.85 L366.51 228.23 L364.53 226.84 L362.45 225.69 L360.29 224.77 L358.07 224.09 L355.82 223.66 L353.58 223.48 L351.37 223.53 L349.21 223.82 L347.13 224.33 L345.15 225.04 L343.29 225.95 L341.58 227.04 L340.03 228.28 L338.65 229.65 L337.46 231.14 L336.47 232.72 L335.67 234.35 L335.08 236.03 L334.69 237.72 L334.50 239.39 L334.51 241.04 L334.70 242.62 L335.06 244.13 L335.59 245.54 L336.26 246.83 L337.06 248.00 L337.96 249.02 L338.95 249.88 L340.00 250.59 L341.09 251.13 L342.20 251.50 L343.31 251.71 L344.39 251.76 L345.42 251.65 L346.38 251.40 L347.25 251.02 L348.02 250.53 L348.67 249.94 L349.19 249.26 L349.56 248.53 L349.79 247.76 M969.89 268.40 L972.28 266.18 L974.43 263.73 L976.33 261.08 L977.96 258.25 L979.29 255.28 L980.31 252.18 L981.02 249.00 L981.41 245.77 L981.47 242.51 L981.20 239.26 L980.61 236.06 L979.70 232.93 L978.48 229.91 L976.96 227.03 L975.16 224.32 L973.10 221.80 L970.80 219.51 L968.27 217.46 L965.56 215.67 L962.68 214.17 L959.66 212.97 L956.54 212.08 L953.35 211.50 L950.13 211.26 L946.89 211.34 L943.69 211.74 L940.54 212.47 L937.49 213.51 L934.56 214.85 L931.79 216.48 L929.20 218.38 L926.81 220.53 L924.67 222.90 L922.77 225.47 L921.15 228.22 L919.82 231.11 L918.79 234.12 L918.08 237.21 L917.68 240.35 L917.60 243.50 L917.84 246.64 L918.40 249.73 L919.27 252.73 L920.43 255.63 L921.88 258.38 L923.59 260.96 L925.56 263.35 L927.74 265.51 L930.13 267.43 L932.69 269.10 L935.40 270.49 L938.22 271.59 L941.12 272.39 L944.08 272.89 L947.06 273.08 L950.03 272.96 L952.95 272.55 L955.80 271.84 L958.55 270.85 L961.17 269.59 L963.62 268.08 L965.90 266.33 L967.96 264.38 L969.80 262.23 L971.40 259.93 L972.75 257.49 L973.82 254.94 L974.62 252.32 L975.14 249.66 L975.38 246.97 L975.34 244.30 L975.02 241.68 L974.44 239.13 L973.61 236.68 L972.53 234.35 L971.24 232.17 L969.74 230.16 L968.05 228.35 L966.21 226.73 L964.23 225.34 L962.15 224.19 L959.99 223.27 L957.77 222.59 L955.52 222.16 L953.28 221.98 L951.07 222.03 L948.91 222.32 L946.83 222.83 L944.85 223.54 L942.99 224.45 L941.28 225.54 L939.73 226.78 L938.35 228.15 L937.16 229.64 L936.17 231.22 L935.37 232.85 L934.78 234.53 L934.39 236.22 L934.20 237.89 L934.21 239.54 L934.40 241.12 L934.76 242.63 L935.29 244.04 L935.96 245.33 L936.76 246.50 L937.66 247.52 L938.65 248.38 L939.70 249.09 L940.79 249.63 L941.90 250.00 L943.01 250.21 L944.09 250.26 L945.12 250.15 L946.08 249.90 L946.95 249.52 L947.72 249.03 L948.37 248.44 L948.89 247.76 L949.26 247.03 L949.49 246.26 M1569.89 268.40 L1572.28 266.18 L1574.43 263.73 L1576.33 261.08 L1577.96 258.25 L1579.29 255.28 L1580.31 252.18 L1581.02 249.00 L1581.41 245.77 L1581.47 242.51 L1581.20 239.26 L1580.61 236.06 L1579.70 232.93 L1578.48 229.91 L1576.96 227.03 L1575.16 224.32 L1573.10 221.80 L1570.80 219.51 L1568.27 217.46 L1565.56 215.67 L1562.68 214.17 L1559.66 212.97 L1556.54 212.08 L1553.35 211.50 L1550.13 211.26 L1546.89 211.34 L1543.69 211.74 L1540.54 212.47 L1537.49 213.51 L1534.56 214.85 L1531.79 216.48 L1529.20 218.38 L1526.81 220.53 L1524.67 222.90 L1522.77 225.47 L1521.15 228.22 L1519.82 231.11 L1518.79 234.12 L1518.08 237.21 L1517.68 240.35 L1517.60 243.50 L1517.84 246.64 L1518.40 249.73 L1519.27 252.73 L1520.43 255.63 L1521.88 258.38 L1523.59 260.96 L1525.56 263.35 L1527.74 265.51 L1530.13 267.43 L1532.69 269.10 L1535.40 270.49 L1538.22 271.59 L1541.12 272.39 L1544.08 272.89 L1547.06 273.08 L1550.03 272.96 L1552.95 272.55 L1555.80 271.84 L1558.55 270.85 L1561.17 269.59 L1563.62 268.08 L1565.90 266.33 L1567.96 264.38 L1569.80 262.23 L1571.40 259.93 L1572.75 257.49 L1573.82 254.94 L1574.62 252.32 L1575.14 249.66 L1575.38 246.97 L1575.34 244.30 L1575.02 241.68 L1574.44 239.13 L1573.61 236.68 L1572.53 234.35 L1571.24 232.17 L1569.74 230.16 L1568.05 228.35 L1566.21 226.73 L1564.23 225.34 L1562.15 224.19 L1559.99 223.27 L1557.77 222.59 L1555.52 222.16 L1553.28 221.98 L1551.07 222.03 L1548.91 222.32 L1546.83 222.83 L1544.85 223.54 L1542.99 224.45 L1541.28 225.54 L1539.73 226.78 L1538.35 228.15 L1537.16 229.64 L1536.17 231.22 L1535.37 232.85 L1534.78 234.53 L1534.39 236.22 L1534.20 237.89 L1534.21 239.54 L1534.40 241.12 L1534.76 242.63 L1535.29 244.04 L1535.96 245.33 L1536.76 246.50 L1537.66 247.52 L1538.65 248.38 L1539.70 249.09 L1540.79 249.63 L1541.90 250.00 L1543.01 250.21 L1544.09 250.26 L1545.12 250.15 L1546.08 249.90 L1546.95 249.52 L1547.72 249.03 L1548.37 248.44 L1548.89 247.76 L1549.26 247.03 L1549.49 246.26 M70.29 568.70 L72.68 566.48 L74.83 564.03 L76.73 561.38 L78.36 558.55 L79.69 555.58 L80.71 552.48 L81.42 549.30 L81.81 546.07 L81.87 542.81 L81.60 539.56 L81.01 536.36 L80.10 533.23 L78.88 530.21 L77.36 527.33 L75.56 524.62 L73.50 522.10 L71.20 519.81 L68.67 517.76 L65.96 515.97 L63.08 514.47 L60.06 513.27 L56.94 512.38 L53.75 511.80 L50.53 511.56 L47.29 511.64 L44.09 512.04 L40.94 512.77 L37.89 513.81 L34.96 515.15 L32.19 516.78 L29.60 518.68 L27.21 520.83 L25.07 523.20 L23.17 525.77 L21.55 528.52 L20.22 531.41 L19.19 534.42 L18.48 537.51 L18.08 540.65 L18.00 543.80 L18.24 546.94 L18.80 550.03 L19.67 553.03 L20.83 555.93 L22.28 558.68 L23.99 561.26 L25.96 563.65 L28.14 565.81 L30.53 567.73 L33.09 569.40 L35.80 570.79 L38.62 571.89 L41.52 572.69 L44.48 573.19 L47.46 573.38 L50.43 573.26 L53.35 572.85 L56.20 572.14 L58.95 571.15 L61.57 569.89 L64.02 568.38 L66.30 566.63 L68.36 564.68 L70.20 562.53 L71.80 560.23 L73.15 557.79 L74.22 555.24 L75.02 552.62 L75.54 549.96 L75.78 547.27 L75.74 544.60 L75.42 541.98 L74.84 539.43 L74.01 536.98 L72.93 534.65 L71.64 532.47 L70.14 530.46 L68.45 528.65 L66.61 527.03 L64.63 525.64 L62.55 524.49 L60.39 523.57 L58.17 522.89 L55.92 522.46 L53.68 522.28 L51.47 522.33 L49.31 522.62 L47.23 523.13 L45.25 523.84 L43.39 524.75 L41.68 525.84 L40.13 527.08 L38.75 528.45 L37.56 529.94 L36.57 531.52 L35.77 533.15 L35.18 534.83 L34.79 536.52 L34.60 538.19 L34.61 539.84 L34.80 541.42 L35.16 542.93 L35.69 544.34 L36.36 545.63 L37.16 546.80 L38.06 547.82 L39.05 548.68 L40.10 549.39 L41.19 549.93 L42.30 550.30 L43.41 550.51 L44.49 550.56 L45.52 550.45 L46.48 550.20 L47.35 549.82 L48.12 549.33 L48.77 548.74 L49.29 548.06 L49.66 547.33 L49.89 546.56 M670.09 568.40 L672.48 566.18 L674.63 563.73 L676.53 561.08 L678.16 558.25 L679.49 555.28 L680.51 552.18 L681.22 549.00 L681.61 545.77 L681.67 542.51 L681.40 539.26 L680.81 536.06 L679.90 532.93 L678.68 529.91 L677.16 527.03 L675.36 524.32 L673.30 521.80 L671.00 519.51 L668.47 517.46 L665.76 515.67 L662.88 514.17 L659.86 512.97 L656.74 512.08 L653.55 511.50 L650.33 511.26 L647.09 511.34 L643.89 511.74 L640.74 512.47 L637.69 513.51 L634.76 514.85 L631.99 516.48 L629.40 518.38 L627.01 520.53 L624.87 522.90 L622.97 525.47 L621.35 528.22 L620.02 531.11 L618.99 534.12 L618.28 537.21 L617.88 540.35 L617.80 543.50 L618.04 546.64 L618.60 549.73 L619.47 552.73 L620.63 555.63 L622.08 558.38 L623.79 560.96 L625.76 563.35 L627.94 565.51 L630.33 567.43 L632.89 569.10 L635.60 570.49 L638.42 571.59 L641.32 572.39 L644.28 572.89 L647.26 573.08 L650.23 572.96 L653.15 572.55 L656.00 571.84 L658.75 570.85 L661.37 569.59 L663.82 568.08 L666.10 566.33 L668.16 564.38 L670.00 562.23 L671.60 559.93 L672.95 557.49 L674.02 554.94 L674.82 552.32 L675.34 549.66 L675.58 546.97 L675.54 544.30 L675.22 541.68 L674.64 539.13 L673.81 536.68 L672.73 534.35 L671.44 532.17 L669.94 530.16 L668.25 528.35 L666.41 526.73 L664.43 525.34 L662.35 524.19 L660.19 523.27 L657.97 522.59 L655.72 522.16 L653.48 521.98 L651.27 522.03 L649.11 522.32 L647.03 522.83 L645.05 523.54 L643.19 524.45 L641.48 525.54 L639.93 526.78 L638.55 528.15 L637.36 529.64 L636.37 531.22 L635.57 532.85 L634.98 534.53 L634.59 536.22 L634.40 537.89 L634.41 539.54 L634.60 541.12 L634.96 542.63 L635.49 544.04 L636.16 545.33 L636.96 546.50 L637.86 547.52 L638.85 548.38 L639.90 549.09 L640.99 549.63 L642.10 550.00 L643.21 550.21 L644.29 550.26 L645.32 550.15 L646.28 549.90 L647.15 549.52 L647.92 549.03 L648.57 548.44 L649.09 547.76 L649.46 547.03 L649.69 546.26 M1269.89 567.40 L1272.28 565.18 L1274.43 562.73 L1276.33 560.08 L1277.96 557.25 L1279.29 554.28 L1280.31 551.18 L1281.02 548.00 L1281.41 544.77 L1281.47 541.51 L1281.20 538.26 L1280.61 535.06 L1279.70 531.93 L1278.48 528.91 L1276.96 526.03 L1275.16 523.32 L1273.10 520.80 L1270.80 518.51 L1268.27 516.46 L1265.56 514.67 L1262.68 513.17 L1259.66 511.97 L1256.54 511.08 L1253.35 510.50 L1250.13 510.26 L1246.89 510.34 L1243.69 510.74 L1240.54 511.47 L1237.49 512.51 L1234.56 513.85 L1231.79 515.48 L1229.20 517.38 L1226.81 519.53 L1224.67 521.90 L1222.77 524.47 L1221.15 527.22 L1219.82 530.11 L1218.79 533.12 L1218.08 536.21 L1217.68 539.35 L1217.60 542.50 L1217.84 545.64 L1218.40 548.73 L1219.27 551.73 L1220.43 554.63 L1221.88 557.38 L1223.59 559.96 L1225.56 562.35 L1227.74 564.51 L1230.13 566.43 L1232.69 568.10 L1235.40 569.49 L1238.22 570.59 L1241.12 571.39 L1244.08 571.89 L1247.06 572.08 L1250.03 571.96 L1252.95 571.55 L1255.80 570.84 L1258.55 569.85 L1261.17 568.59 L1263.62 567.08 L1265.90 565.33 L1267.96 563.38 L1269.80 561.23 L1271.40 558.93 L1272.75 556.49 L1273.82 553.94 L1274.62 551.32 L1275.14 548.66 L1275.38 545.97 L1275.34 543.30 L1275.02 540.68 L1274.44 538.13 L1273.61 535.68 L1272.53 533.35 L1271.24 531.17 L1269.74 529.16 L1268.05 527.35 L1266.21 525.73 L1264.23 524.34 L1262.15 523.19 L1259.99 522.27 L1257.77 521.59 L1255.52 521.16 L1253.28 520.98 L1251.07 521.03 L1248.91 521.32 L1246.83 521.83 L1244.85 522.54 L1242.99 523.45 L1241.28 524.54 L1239.73 525.78 L1238.35 527.15 L1237.16 528.64 L1236.17 530.22 L1235.37 531.85 L1234.78 533.53 L1234.39 535.22 L1234.20 536.89 L1234.21 538.54 L1234.40 540.12 L1234.76 541.63 L1235.29 543.04 L1235.96 544.33 L1236.76 545.50 L1237.66 546.52 L1238.65 547.38 L1239.70 548.09 L1240.79 548.63 L1241.90 549.00 L1243.01 549.21 L1244.09 549.26 L1245.12 549.15 L1246.08 548.90 L1246.95 548.52 L1247.72 548.03 L1248.37 547.44 L1248.89 546.76 L1249.26 546.03 L1249.49 545.26" fill="none" stroke="#fff" stroke-opacity="0.33" stroke-width="11.9" stroke-linecap="round"/><g transform="translate(-7.5 306) rotate(-45) scale(0.9) translate(-20 -802.3)" fill="none" stroke="#fff" stroke-opacity="0.33" stroke-linecap="round" stroke-linejoin="round"><use href="#wmt" stroke-width="4.2"/><use href="#wms" stroke-width="2.6"/></g><g transform="translate(592.5 306) rotate(-45) scale(0.9) translate(-20 -802.3)" fill="none" stroke="#fff" stroke-opacity="0.33" stroke-linecap="round" stroke-linejoin="round"><use href="#wmt" stroke-width="4.2"/><use href="#wms" stroke-width="2.6"/></g><g transform="translate(1192.5 306) rotate(-45) scale(0.9) translate(-20 -802.3)" fill="none" stroke="#fff" stroke-opacity="0.33" stroke-linecap="round" stroke-linejoin="round"><use href="#wmt" stroke-width="4.2"/><use href="#wms" stroke-width="2.6"/></g><g transform="translate(292.5 608) rotate(-45) scale(0.9) translate(-20 -802.3)" fill="none" stroke="#fff" stroke-opacity="0.33" stroke-linecap="round" stroke-linejoin="round"><use href="#wmt" stroke-width="4.2"/><use href="#wms" stroke-width="2.6"/></g><g transform="translate(892.5 608) rotate(-45) scale(0.9) translate(-20 -802.3)" fill="none" stroke="#fff" stroke-opacity="0.33" stroke-linecap="round" stroke-linejoin="round"><use href="#wmt" stroke-width="4.2"/><use href="#wms" stroke-width="2.6"/></g><g transform="translate(1492.5 608) rotate(-45) scale(0.9) translate(-20 -802.3)" fill="none" stroke="#fff" stroke-opacity="0.33" stroke-linecap="round" stroke-linejoin="round"><use href="#wmt" stroke-width="4.2"/><use href="#wms" stroke-width="2.6"/></g><rect x="0" y="0" width="1600" height="741" fill="#000" fill-opacity="0.05" mask="url(#wmask)"/>
<rect x="0" y="741" width="1600" height="90" fill="#1177b0"/>
<path d="M34 781.2V795.2A6.1 7 0 1 1 21.8 795.2A6.1 7 0 1 1 34 795.2M42.8 802.3V795.2C42.8 790.5 44.6 788.2 47.6 788.2M59.60 797.4L66.60 791.4C65.40 789.3 63.80 788.2 61.90 788.2C58.40 788.2 55.90 791.3 55.90 795.2C55.90 799.2 58.40 802.3 61.90 802.3L67.60 802.3M81.6 802.3A6.2 7 0 0 1 75.2 795.2A6.2 7 0 0 1 87.6 795.2V802.3M96.70 802.3V793A4.95 4.8 0 0 1 106.60 793V802.3M106.60 793A4.45 4.8 0 0 1 115.50 793V802.3M134.6 789C130.5 787.6 129.2 790.2 128.6 793.5L127.1 799.4C126.4 802 124.5 802.8 122.3 802.2M142.2 781.4V797A4.5 5.3 0 0 0 151.2 797V796.2M142.2 789.6H151.3M160.8 789V802.3M169.60 802.3V793A4.95 4.8 0 0 1 179.50 793V802.3M179.50 793A4.60 4.8 0 0 1 188.70 793V802.3M201.80 797.4L208.80 791.4C207.60 789.3 206.00 788.2 204.10 788.2C200.60 788.2 198.10 791.3 198.10 795.2C198.10 799.2 200.60 802.3 204.10 802.3L209.80 802.3" fill="none" stroke="#fff" stroke-width="3.8" stroke-linecap="round" stroke-linejoin="round"/><path d="M165.80 781.38 L166.32 780.89 L166.80 780.35 L167.21 779.77 L167.57 779.15 L167.86 778.49 L168.09 777.81 L168.25 777.11 L168.33 776.40 L168.34 775.68 L168.29 774.97 L168.15 774.26 L167.95 773.57 L167.69 772.91 L167.35 772.28 L166.96 771.68 L166.50 771.13 L165.99 770.62 L165.44 770.17 L164.84 769.78 L164.21 769.45 L163.55 769.18 L162.86 768.99 L162.16 768.86 L161.45 768.81 L160.74 768.82 L160.03 768.91 L159.34 769.07 L158.67 769.30 L158.02 769.60 L157.41 769.96 L156.84 770.37 L156.32 770.85 L155.85 771.37 L155.43 771.93 L155.07 772.54 L154.78 773.18 L154.55 773.84 L154.40 774.52 L154.31 775.21 L154.29 775.90 L154.35 776.59 L154.47 777.27 L154.66 777.93 L154.91 778.57 L155.23 779.17 L155.61 779.74 L156.04 780.27 L156.52 780.74 L157.05 781.17 L157.61 781.53 L158.21 781.84 L158.83 782.08 L159.47 782.26 L160.12 782.36 L160.77 782.41 L161.43 782.38 L162.07 782.29 L162.70 782.14 L163.30 781.92 L163.88 781.64 L164.42 781.31 L164.92 780.92 L165.37 780.49 L165.78 780.02 L166.13 779.51 L166.42 778.98 L166.66 778.42 L166.84 777.84 L166.95 777.25 L167.00 776.66 L166.99 776.08 L166.92 775.50 L166.80 774.94 L166.61 774.40 L166.38 773.89 L166.09 773.41 L165.76 772.97 L165.39 772.57 L164.99 772.21 L164.55 771.91 L164.09 771.65 L163.62 771.45 L163.13 771.30 L162.64 771.21 L162.14 771.16 L161.65 771.18 L161.18 771.24 L160.72 771.35 L160.29 771.51 L159.88 771.71 L159.50 771.95 L159.16 772.22 L158.86 772.52 L158.60 772.85 L158.38 773.20 L158.20 773.56 L158.07 773.93 L157.99 774.30 L157.94 774.67 L157.95 775.03 L157.99 775.38 L158.07 775.71 L158.18 776.02 L158.33 776.30 L158.51 776.56 L158.70 776.78 L158.92 776.97 L159.15 777.13 L159.39 777.25 L159.64 777.33 L159.88 777.38 L160.12 777.39 L160.35 777.36 L160.56 777.31 L160.75 777.23 L160.92 777.12 L161.06 776.99 L161.18 776.84 L161.26 776.68 L161.31 776.51" fill="none" stroke="#fff" stroke-width="2.25" stroke-linecap="round"/><circle cx="216.1" cy="801.5" r="2.7" fill="#fff"/><path d="M233.89 790.62A5.50 7.30 0 1 0 233.89 800.38" fill="none" stroke="#fff" stroke-width="4.4" stroke-linecap="round"/><ellipse cx="247.1" cy="795.5" rx="5.55" ry="7.3" fill="none" stroke="#fff" stroke-width="4.4"/><path d="M260.5 804.2V793.2A5.1 5 0 0 1 270.7 793.2V804.2M270.7 793.2A5.1 5 0 0 1 280.9 793.2V804.2" fill="none" stroke="#fff" stroke-width="4.4" stroke-linecap="butt"/>
<text x="1306" y="794.4" font-size="24" font-weight="bold" fill="#fff" textLength="265.5" lengthAdjust="spacingAndGlyphs">ID 29007886 &#169; Mvogel</text>
</svg></body></html>
